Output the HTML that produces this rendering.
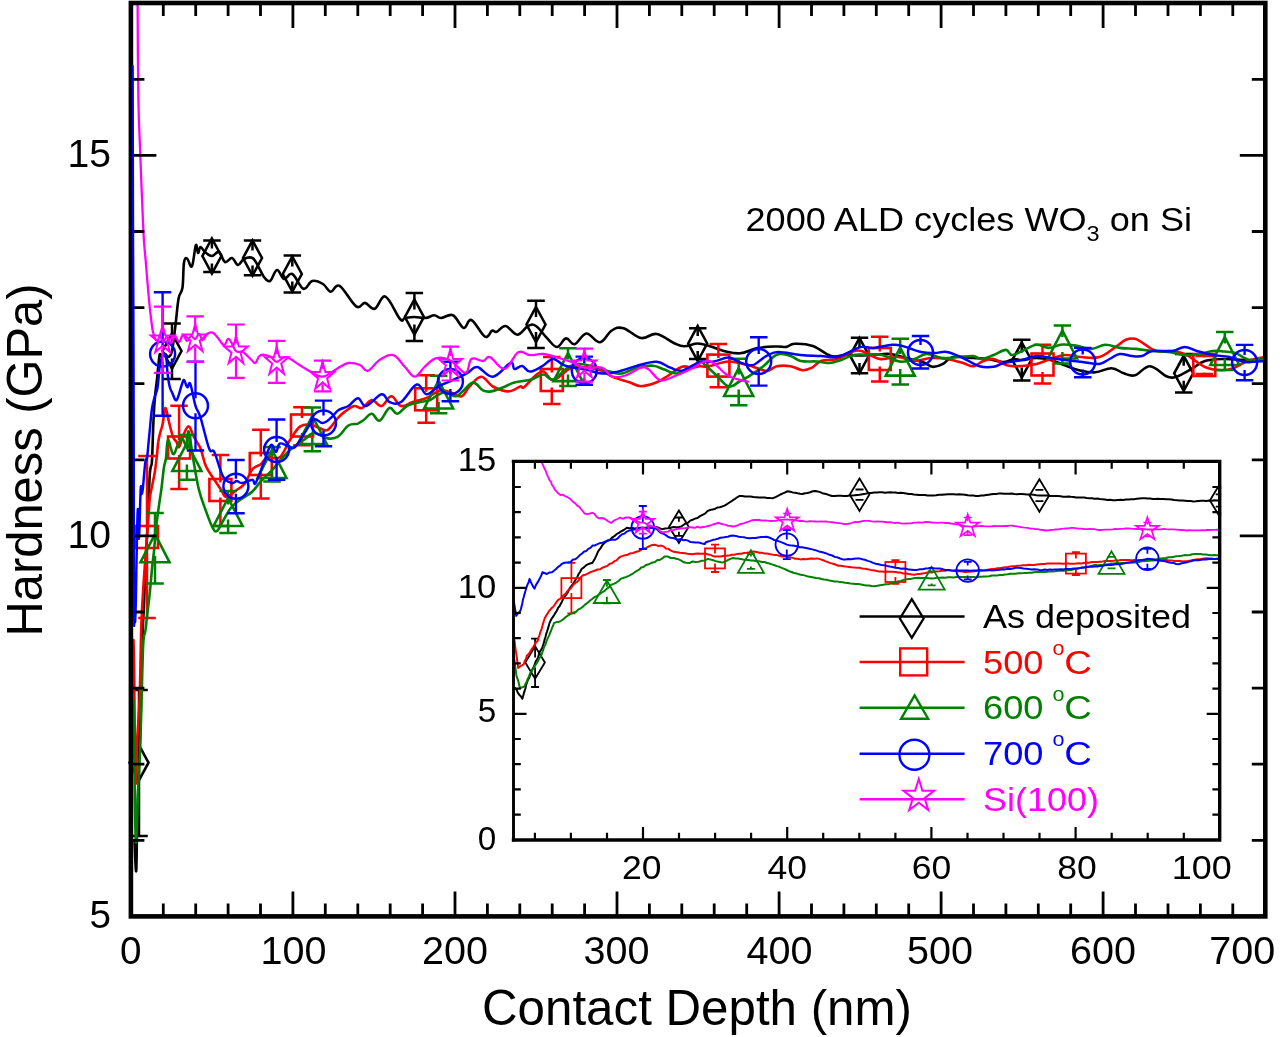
<!DOCTYPE html>
<html lang="en"><head><meta charset="utf-8"><title>Hardness vs Contact Depth</title>
<style>
html,body{margin:0;padding:0;background:#fff;}
body{width:1280px;height:1037px;overflow:hidden;position:relative;font-family:"Liberation Sans",Arial,Helvetica,sans-serif;}
</style></head><body>
<svg width="1280" height="1037" viewBox="0 0 1280 1037" style="display:block;position:absolute;left:0;top:0">
<rect width="1280" height="1037" fill="#fff"/>
<g id="main-curves" clip-path="url(#mclip)">
<clipPath id="mclip"><rect x="127.9" y="1" width="1140.4" height="917.4"/></clipPath>
<path fill="none" stroke="#000000" stroke-width="2.6" stroke-linejoin="round" stroke-linecap="round" d="M134.5 840C134.8 845.7 135.7 874.4 136.2 871.1C136.7 867.8 136.7 841.6 137.2 822.2C137.8 802.7 138.4 786 139 765.1C139.7 744.2 140.3 731.2 140.9 708C141.5 684.9 141.9 657.4 142.4 638.7C143 620 143.3 620.2 143.9 606C144.5 591.8 145.1 576.2 145.7 561.3C146.4 546.3 146.9 539.5 147.6 524.4C148.2 509.4 149 489.5 149.5 479.1C150.1 468.7 150.1 471.1 150.6 467.7C151 464.2 151.4 468.7 152 460.4C152.5 452.2 152.8 433.9 153.4 422.7C153.9 411.4 154.1 406.9 154.8 399.1C155.4 391.3 156.2 386.3 156.9 380.2C157.5 374.2 157.8 370.9 158.3 366.2C158.8 361.5 159.1 356.2 159.7 354.4C160.3 352.6 160.5 356.6 161.4 356.5C162.4 356.4 163.6 353.7 164.9 353.8C166.1 353.9 166.9 357.3 168.3 356.8C169.6 356.3 170.7 356.8 172 351C173.3 345.2 174.3 334.6 175.5 325C176.7 315.4 177.3 305.3 178.6 298.4C179.9 291.5 181.5 294.1 182.5 287.5C183.5 280.9 183.1 267.8 184 262.5C184.9 257.2 185.8 257.9 187.2 258.6C188.6 259.3 190.3 268.8 191.9 266.4C193.5 264 194.7 247.8 195.8 245.3C196.9 242.8 197.1 252.7 198 253C198.9 253.3 199.2 247.2 200.5 247C201.8 246.8 202.9 250.3 205 252C207.1 253.7 209.3 256 211.9 256C214.5 256 216.6 250.9 219 252C221.4 253.1 222.6 260.9 225 262C227.4 263.1 229.6 257.4 232 258C234.4 258.6 235.8 264.8 238 265C240.2 265.2 241.3 260.3 244 259C246.7 257.7 249.9 256.7 252.5 258C255.1 259.3 255.9 262.5 258 266C260.1 269.5 261.8 274.2 264 277C266.2 279.8 267.6 282.3 270 281C272.4 279.7 274.4 270.4 277 270C279.6 269.6 281.2 278.3 284 279C286.8 279.7 288.7 272.2 292.3 274C295.9 275.8 299.8 287.5 303.4 288.8C307 290.1 308.6 281.9 312.2 281C315.8 280.1 319.6 282 323 284C326.4 286 327.8 291.5 330.8 291.8C333.8 292.1 334.9 283.2 339.6 285.9C344.3 288.6 351.5 303.3 356.2 306.4C360.9 309.5 361.6 302.5 365 302.9C368.4 303.3 370.9 310 374.7 308.8C378.5 307.6 380.9 294.7 385.5 296.6C390.1 298.5 396.4 315.1 400 319C403.6 322.9 402.4 318.4 405 318C407.6 317.6 410.6 317 414.4 317C418.2 317 421.9 318.3 425.5 318C429.1 317.7 431.5 315.2 434.3 315.2C437.1 315.2 437.6 318 441 318C444.4 318 448.8 313.4 452.9 315.2C457 317 460.2 327 463.6 327.9C467 328.8 467.5 318.4 471.4 320C475.3 321.6 481.2 334.7 485 336.7C488.8 338.7 489.8 331.7 492 330.8C494.2 329.9 494.3 332.7 496.8 331.8C499.3 330.9 501.8 325.5 505.6 326C509.4 326.5 513.2 334.7 517.3 334.7C521.4 334.7 524.6 327.6 528 326C531.4 324.4 532.5 323.7 536 326C539.5 328.3 543.4 334.5 547.3 338.4C551.1 342.2 553.6 347 557 347C560.4 347 562.8 338.9 566 338.4C569.2 337.9 571 345.1 574.7 344.2C578.4 343.3 581.8 333.8 586.4 333.5C591 333.2 595.3 342.9 600 342.3C604.7 341.8 607.5 333.1 611.8 330.5C616.1 327.9 618.1 326.8 623.5 328.2C628.9 329.6 634.9 336.9 641 338C647.1 339.1 650.6 333 656.7 334C662.8 335 669.3 341 674.3 343.2C679.3 345.4 679.7 346.1 684 346.2C688.3 346.3 693.1 343.5 697.7 343.5C702.3 343.5 704.5 344.6 709.3 346C714.1 347.4 718.1 349.6 723.8 350.9C729.4 352.2 733.8 353.8 740 353.3C746.2 352.8 750.8 349.2 757.5 348C764.2 346.8 771.5 346.7 776.8 346.5C782.1 346.3 783.2 347.4 786.4 346.9C789.6 346.4 789.7 344 794.5 343.8C799.3 343.6 806.1 343.7 812.8 345.9C819.5 348.1 825 354.3 831 356C837 357.7 840.1 355.1 845.3 355C850.5 354.9 854.3 355.5 859.5 355.5C864.7 355.5 868.2 355.3 873.8 355C879.3 354.7 884 353.4 890 354C896 354.6 900.3 356.5 906.2 358C912.2 359.5 917.7 360.4 922.5 362C927.3 363.6 929 366.4 932.7 366.8C936.4 367.2 939.1 365.8 942.8 364C946.5 362.2 947.4 358.1 953 357C958.6 355.9 967 357.6 973.3 358C979.6 358.4 981.9 358.3 987.5 359C993.1 359.7 998.9 362 1003.8 362C1008.6 362 1010.7 359.4 1014 359C1017.3 358.6 1017.9 360.2 1022 360C1026.1 359.8 1031.2 358 1036.4 358C1041.6 358 1045.4 358.7 1050.6 360C1055.8 361.3 1059.6 363.3 1064.8 365.2C1070 367.1 1073.4 368.9 1079 370.2C1084.6 371.5 1089.3 372.7 1095.3 372.3C1101.3 371.9 1106.4 368 1111.6 368.2C1116.8 368.4 1119.5 372 1123.8 373.3C1128 374.6 1130.2 376.6 1135 375.3C1139.8 374 1144.2 366 1150 366.2C1155.8 366.4 1161.9 374.3 1166.4 376.3C1170.9 378.3 1171.3 377.9 1174.5 377.3C1177.7 376.8 1180.3 375 1183.7 373.3C1187.1 371.6 1188.9 370.5 1192.8 368.2C1196.7 365.9 1199.4 362.7 1205 361C1210.6 359.3 1216.2 359.2 1223.3 359C1230.4 358.8 1236 359.6 1243.6 360C1251.2 360.4 1261.1 360.8 1265 361"/>
<path fill="none" stroke="#000000" stroke-width="2.5" d="M139 690V755.2M139 770.2V836M130.2 690H147.8M130.2 836H147.8"/>
<path fill="none" stroke="#000000" stroke-width="2.6" stroke-linejoin="miter" d="M139 745.2L148.5 762.7L139 780.2L129.5 762.7Z"/>
<path fill="none" stroke="#000000" stroke-width="2.5" d="M172 323.5V343.5M172 358.5V379M163.2 323.5H180.8M163.2 379H180.8"/>
<path fill="none" stroke="#000000" stroke-width="2.6" stroke-linejoin="miter" d="M172 333.5L181.5 351L172 368.5L162.5 351Z"/>
<path fill="none" stroke="#000000" stroke-width="2.5" d="M211.9 240.6V248.5M211.9 263.5V271.9M203.2 240.6H220.7M203.2 271.9H220.7"/>
<path fill="none" stroke="#000000" stroke-width="2.6" stroke-linejoin="miter" d="M211.9 238.5L221.4 256L211.9 273.5L202.4 256Z"/>
<path fill="none" stroke="#000000" stroke-width="2.5" d="M252.5 240.6V250.5M252.5 265.5V275.3M243.8 240.6H261.2M243.8 275.3H261.2"/>
<path fill="none" stroke="#000000" stroke-width="2.6" stroke-linejoin="miter" d="M252.5 240.5L262 258L252.5 275.5L243 258Z"/>
<path fill="none" stroke="#000000" stroke-width="2.5" d="M292.3 255.5V266.5M292.3 281.5V292.5M283.6 255.5H301.1M283.6 292.5H301.1"/>
<path fill="none" stroke="#000000" stroke-width="2.6" stroke-linejoin="miter" d="M292.3 256.5L301.8 274L292.3 291.5L282.8 274Z"/>
<path fill="none" stroke="#000000" stroke-width="2.5" d="M414.4 293.1V309.5M414.4 324.5V341M405.6 293.1H423.1M405.6 341H423.1"/>
<path fill="none" stroke="#000000" stroke-width="2.6" stroke-linejoin="miter" d="M414.4 299.5L423.9 317L414.4 334.5L404.9 317Z"/>
<path fill="none" stroke="#000000" stroke-width="2.5" d="M536 300.7V317M536 332V348.1M527.2 300.7H544.8M527.2 348.1H544.8"/>
<path fill="none" stroke="#000000" stroke-width="2.6" stroke-linejoin="miter" d="M536 307L545.5 324.5L536 342L526.5 324.5Z"/>
<path fill="none" stroke="#000000" stroke-width="2.5" d="M697.7 328.2V336M697.7 351V358.9M689 328.2H706.5M689 358.9H706.5"/>
<path fill="none" stroke="#000000" stroke-width="2.6" stroke-linejoin="miter" d="M697.7 326L707.2 343.5L697.7 361L688.2 343.5Z"/>
<path fill="none" stroke="#000000" stroke-width="2.5" d="M859.5 337.7V348M859.5 363V373.3M850.8 337.7H868.2M850.8 373.3H868.2"/>
<path fill="none" stroke="#000000" stroke-width="2.6" stroke-linejoin="miter" d="M859.5 338L869 355.5L859.5 373L850 355.5Z"/>
<path fill="none" stroke="#000000" stroke-width="2.5" d="M1021.8 339.8V352.5M1021.8 367.5V380.4M1013 339.8H1030.5M1013 380.4H1030.5"/>
<path fill="none" stroke="#000000" stroke-width="2.6" stroke-linejoin="miter" d="M1021.8 342.5L1031.3 360L1021.8 377.5L1012.3 360Z"/>
<path fill="none" stroke="#000000" stroke-width="2.5" d="M1183.7 354V365.8M1183.7 380.8V392.6M1175 354H1192.5M1175 392.6H1192.5"/>
<path fill="none" stroke="#000000" stroke-width="2.6" stroke-linejoin="miter" d="M1183.7 355.8L1193.2 373.3L1183.7 390.8L1174.2 373.3Z"/>
<path fill="none" stroke="#ff0000" stroke-width="2.6" stroke-linejoin="round" stroke-linecap="round" d="M133.5 640C133.6 646.5 133.9 650.2 134.2 675.4C134.5 700.6 134.8 760.5 135.3 777.3C135.7 794.2 136.1 773.9 136.5 767.2C136.8 760.5 136.7 753.7 137.2 740.6C137.8 727.6 138.9 716.1 139.7 695.8C140.4 675.5 140.7 647.1 141.2 630.1C141.7 613.1 141.9 612.4 142.4 602.9C142.9 593.5 143.2 589 143.9 578.5C144.6 568 145.6 556 146.3 545.6C147.1 535.1 147.5 530.1 148.1 521.4C148.7 512.7 149.1 504.6 149.8 498.2C150.5 491.7 151.1 491.1 152 486.4C152.9 481.6 153.9 477.8 154.8 472.2C155.7 466.6 156.2 461.3 156.9 455.7C157.5 450.1 157.6 446 158.3 441.7C158.9 437.3 159.6 435.1 160.4 432C161.2 428.9 161.7 428.6 162.5 424.8C163.3 420.9 164 413.8 164.6 410.9C165.2 408 165.2 407 166 409C166.8 411 167.7 416.9 169 422C170.3 427.1 171.6 433 173 436.7C174.4 440.4 175.5 440.1 176.6 442C177.7 443.9 177.9 448.1 179.1 447C180.3 445.9 181.3 439.8 183 436C184.7 432.2 186.6 426.3 188.6 426.4C190.6 426.5 191.6 432.6 193.8 436.7C196 440.8 198.4 443.4 200.6 448.8C202.8 454.2 203.3 460.3 205.8 466C208.3 471.7 211.6 475.3 214.4 479.7C217.2 484.1 219.1 486.8 221.3 490C223.5 493.2 223.6 496.9 226.4 496.9C229.2 496.9 233.2 492.5 236.7 490C240.2 487.5 242.5 486.8 245.3 483C248.1 479.2 249.4 472.8 252.2 469.4C255 466 258 466.4 260.8 464.2C263.6 462 264.2 458.6 267.7 457.3C271.2 456 275.6 460.5 279.7 457.3C283.8 454.1 286.2 445.7 290 440C293.8 434.3 296.5 429.2 300.3 426.4C304.1 423.6 307.1 424.4 310.6 424.7C314.1 425 316 427.1 319.2 428C322.4 428.9 324.4 431.7 327.8 429.8C331.2 427.9 334.9 421.1 338 417.8C341.1 414.5 341.5 414.1 344.5 411.9C347.5 409.7 351 406.7 354.2 406C357.4 405.3 358.8 409.1 362 408C365.2 406.9 368.2 400.4 371.8 400C375.4 399.6 378 406.7 381.6 406C385.2 405.3 387.7 396.3 391.3 396.3C394.9 396.3 397.1 405 401 406C404.9 407 408.1 403.5 412.8 402C417.5 400.5 421.5 400.1 426.5 398C431.5 395.9 435.7 391.4 440 390.4C444.3 389.4 446 391.2 450 392.3C454 393.4 458 397.4 461.6 396.3C465.2 395.2 465.9 390.1 469.5 386.5C473.1 382.9 476.9 376.7 481.2 376.7C485.5 376.7 487.9 383.8 492.9 386.5C497.9 389.2 503.5 391.4 508.5 391.4C513.5 391.4 517.4 387.3 520.2 386.5C523 385.7 521.2 389.2 524 387.2C526.8 385.2 532 378.4 535.6 375.5C539.2 372.6 540.4 370.8 543.4 371.6C546.4 372.4 549 379.3 552.2 380C555.4 380.7 557.2 377.8 561 375.5C564.8 373.2 565.9 368.8 572.7 367.7C579.5 366.6 590.5 367.8 598 369.6C605.5 371.4 608 375.1 613.8 377.4C619.5 379.7 624.4 380.7 629.4 382.3C634.4 383.9 636 386.2 641 386.2C646 386.2 651.7 384.3 656.7 382.3C661.7 380.3 663.8 378.4 668.4 375.5C673 372.6 677.7 368.1 682 366.7C686.3 365.3 688.8 367.8 692 367.7C695.2 367.6 696.4 366.6 699.6 366.3C702.8 366 704 367.2 709.3 366.3C714.6 365.4 721.5 361.7 728.6 361.5C735.7 361.3 742.6 364.1 747.9 365.3C753.2 366.5 754 367.2 757.5 368.2C761 369.2 763.5 371.3 767 371C770.5 370.7 772.5 367.2 776.8 366.3C781.1 365.4 785.8 365.5 790.5 366.2C795.2 366.9 798.6 370 802.7 370.2C806.8 370.4 809.4 368.9 812.8 367.2C816.2 365.5 816.5 362.5 821 361C825.5 359.5 831.6 360.6 837.2 359C842.8 357.4 846.9 353.5 851.4 352C855.9 350.5 856.4 349.7 861.6 351C866.8 352.3 873.1 357.9 879.8 359C886.5 360.1 891.7 356.6 898 357C904.3 357.4 908.4 360.8 914.4 361C920.4 361.2 924.6 358.4 930.6 358C936.6 357.6 941 358.1 946.9 359C952.8 359.9 958.2 361.7 963 363C967.8 364.3 969.6 366.6 973.3 366.2C977 365.8 979.7 362.3 983.4 361C987.1 359.7 989.1 358.2 993.6 359C998.1 359.8 1002.6 364.3 1007.8 365.6C1013 366.9 1016.8 366.3 1022 366C1027.2 365.7 1031.2 365.3 1036.4 364C1041.6 362.7 1045.4 360.6 1050.6 359C1055.8 357.4 1059.2 355.4 1064.8 355C1070.4 354.6 1074.7 356.6 1081 357C1087.3 357.4 1093.1 358.9 1099.4 357C1105.7 355.1 1110.8 350.1 1115.6 346.9C1120.4 343.7 1122.2 341.3 1125.8 339.8C1129.4 338.3 1131.7 338 1135 338.8C1138.3 339.5 1140.1 341.6 1144 343.8C1147.9 346 1151 349.7 1156.2 351C1161.5 352.3 1166.9 350.3 1172.5 351C1178.1 351.7 1180.7 352.1 1186.7 355C1192.7 357.9 1198.7 364.2 1205 367C1211.3 369.8 1216 370 1221.2 370.2C1226.5 370.4 1228.6 369.9 1233.4 368.2C1238.2 366.5 1241.9 363.1 1247.7 361C1253.5 358.9 1261.8 357.7 1265 357"/>
<path fill="none" stroke="#ff0000" stroke-width="2.5" d="M147 456V529.5M147 544.5V618M138.2 456H155.8M138.2 618H155.8"/>
<rect fill="none" stroke="#ff0000" stroke-width="2.6" x="136" y="526" width="22" height="22"/>
<path fill="none" stroke="#ff0000" stroke-width="2.5" d="M179.1 405.8V440M179.1 455V489.1M170.3 405.8H187.8M170.3 489.1H187.8"/>
<rect fill="none" stroke="#ff0000" stroke-width="2.6" x="168.1" y="436.5" width="22" height="22"/>
<path fill="none" stroke="#ff0000" stroke-width="2.5" d="M220.4 455V482.5M220.4 497.5V526M211.7 455H229.2M211.7 526H229.2"/>
<rect fill="none" stroke="#ff0000" stroke-width="2.6" x="209.4" y="479" width="22" height="22"/>
<path fill="none" stroke="#ff0000" stroke-width="2.5" d="M260.8 429.8V456.5M260.8 471.5V498.6M252.1 429.8H269.6M252.1 498.6H269.6"/>
<rect fill="none" stroke="#ff0000" stroke-width="2.6" x="249.8" y="453" width="22" height="22"/>
<path fill="none" stroke="#ff0000" stroke-width="2.5" d="M302 407.2V418M302 433V445.3M293.2 407.2H310.8M293.2 445.3H310.8"/>
<rect fill="none" stroke="#ff0000" stroke-width="2.6" x="291" y="414.5" width="22" height="22"/>
<path fill="none" stroke="#ff0000" stroke-width="2.5" d="M426.2 375.2V391.8M426.2 406.8V422.7M417.4 375.2H434.9M417.4 422.7H434.9"/>
<rect fill="none" stroke="#ff0000" stroke-width="2.6" x="415.2" y="388.3" width="22" height="22"/>
<path fill="none" stroke="#ff0000" stroke-width="2.5" d="M551.8 357.1V372.5M551.8 387.5V403.9M543 357.1H560.5M543 403.9H560.5"/>
<rect fill="none" stroke="#ff0000" stroke-width="2.6" x="540.8" y="369" width="22" height="22"/>
<path fill="none" stroke="#ff0000" stroke-width="2.5" d="M718.4 344.1V358.1M718.4 373.1V387.3M709.6 344.1H727.1M709.6 387.3H727.1"/>
<rect fill="none" stroke="#ff0000" stroke-width="2.6" x="707.4" y="354.6" width="22" height="22"/>
<path fill="none" stroke="#ff0000" stroke-width="2.5" d="M879.8 336.7V351.5M879.8 366.5V381.4M871 336.7H888.5M871 381.4H888.5"/>
<rect fill="none" stroke="#ff0000" stroke-width="2.6" x="868.8" y="348" width="22" height="22"/>
<path fill="none" stroke="#ff0000" stroke-width="2.5" d="M1042.5 344.8V357M1042.5 372V383.4M1033.8 344.8H1051.2M1033.8 383.4H1051.2"/>
<rect fill="none" stroke="#ff0000" stroke-width="2.6" x="1031.5" y="353.5" width="22" height="22"/>
<path fill="none" stroke="#ff0000" stroke-width="2.5" d="M1204.3 356V357.5M1204.3 372.5V374M1195.5 356H1213M1195.5 374H1213"/>
<rect fill="none" stroke="#ff0000" stroke-width="2.6" x="1193.3" y="354" width="22" height="22"/>
<path fill="none" stroke="#008000" stroke-width="2.6" stroke-linejoin="round" stroke-linecap="round" d="M133.5 700C133.6 706 134 714.9 134.2 732.8C134.4 750.7 134.5 778.3 134.8 797.7C135.1 817.1 135.4 831.8 135.7 838.5C136.1 845.2 136.2 843.4 136.6 834.4C137.1 825.4 137.5 806 138.1 789.6C138.8 773.2 139.6 762.8 140.3 744.9C140.9 726.9 141.2 710.4 141.8 691.7C142.3 673 142.6 654 143.3 642.8C144 631.6 144.6 636.5 145.4 630.6C146.2 624.6 146.9 617.4 147.7 610.5C148.6 603.5 149.1 600.3 149.8 592.7C150.6 585.1 151.2 576.8 152 569C152.7 561.2 153.3 557.9 154.1 550.1C154.8 542.3 155.3 534.7 156.2 526.5C157.1 518.3 158 512.3 159 505.4C159.9 498.5 160.5 495.7 161.4 488.8C162.3 481.9 163.1 473.3 163.9 467.7C164.7 462 165.3 463.1 166 458C166.8 452.9 166.7 440.7 168 440C169.3 439.3 171.3 452.7 173 454C174.7 455.3 175.4 449.9 177 447C178.6 444.1 179.9 438.6 181.7 438.4C183.5 438.2 185.6 447.2 186.9 446C188.2 444.8 187.3 428.6 188.6 431.6C189.9 434.6 191.9 451.8 193.8 462.5C195.7 473.2 196.8 481.2 199 490C201.2 498.8 203.3 503.7 205.8 510.6C208.3 517.5 210.6 524.1 212.7 527.8C214.8 531.5 215.1 532.2 217 531C218.9 529.8 220.3 525.4 223 521C225.7 516.6 228.1 511.1 231.6 507C235.1 502.9 238.1 501.4 241.9 498.6C245.7 495.8 248.7 494.9 252.2 491.7C255.7 488.5 257 485.5 260.8 481.4C264.6 477.3 268.7 473.9 272.8 469.4C276.9 464.9 279.2 461.1 283 457C286.8 452.9 289.6 450.1 293.4 447C297.2 443.9 300 442.6 303.8 440C307.6 437.4 309.6 433.3 314 433C318.4 432.7 323.4 437.7 327.8 438.4C332.2 439.1 334.2 439.1 338 436.7C341.8 434.3 344.7 427.9 348.4 425.5C352.1 423.1 355.1 424.7 358 423.6C360.9 422.5 361.5 421.5 364 419.7C366.5 417.9 368.9 413.6 371.8 413.8C374.7 414 376.4 421.8 379.6 420.7C382.8 419.6 386.2 409.3 389.4 408C392.6 406.7 394 414.2 397.2 413.8C400.4 413.4 402.7 408.2 407 406C411.3 403.8 416.4 403.1 420.6 402C424.8 400.9 426.7 401.4 430 400C433.3 398.6 435.7 395.9 438.6 394.5C441.5 393.1 442.8 392 446 392.3C449.2 392.6 452.6 396.6 455.8 396.3C459 396 460.4 392.9 463.6 390.4C466.8 387.9 469.8 382.6 473.4 382.6C477 382.6 479.8 388.8 483 390.4C486.2 392 487.4 391.9 491 391.4C494.6 390.9 498.4 389.1 502.7 387.5C507 385.9 509.1 384.1 514.4 382.6C519.7 381.1 526.4 380.9 531.7 379.4C537 377.9 539.5 374.5 543.4 374.5C547.3 374.5 548.7 380.6 553.2 379.4C557.7 378.2 563.2 370.6 567.9 367.7C572.6 364.8 573.1 363.8 578.6 363.8C584.1 363.8 592.3 366.3 598 367.7C603.7 369.1 605.5 370.5 609.8 371.6C614.1 372.7 616.6 374.2 621.6 373.5C626.6 372.8 631.5 369.1 637.2 367.7C642.9 366.3 647.8 365.4 652.8 365.7C657.8 366 660.2 368.2 664.5 369.6C668.8 371 672 373.5 676.3 373.5C680.6 373.5 683.7 371.7 688 369.6C692.3 367.5 696.7 362.8 699.7 361.8C702.7 360.8 701.5 362 704.5 364.4C707.5 366.8 711.6 370.9 716 375C720.4 379.1 724.4 385.2 728.6 386.5C732.8 387.8 735.2 383.8 738.7 382C742.2 380.2 743.4 379.8 747.9 376.9C752.4 374 758 370.4 763.3 366.3C768.6 362.2 771.8 356.6 776.8 354.7C781.8 352.8 786.1 354.8 790.5 356C794.9 357.2 795.8 360 800.6 361C805.4 362 811.7 361.1 816.9 361.5C822.1 361.9 824.5 363.3 829 363C833.5 362.7 836.8 361.5 841.2 360C845.7 358.5 848.9 356 853.4 355C857.9 354 860.4 354.6 865.6 354.6C870.8 354.6 875.6 353.7 881.9 355C888.2 356.3 894.2 360.9 900.2 361.6C906.2 362.3 909.6 360.4 914.4 359C919.2 357.6 921.4 354.2 926.6 354C931.8 353.8 936.9 357.4 942.8 358C948.7 358.6 953.4 357.4 959 357C964.6 356.6 969.2 355.6 973.3 356C977.4 356.4 977.7 359.2 981.4 359C985.1 358.8 989.1 356.7 993.6 355C998.1 353.3 1002.4 349.9 1005.8 349.9C1009.2 349.9 1008.9 354.8 1011.9 355C1014.9 355.2 1017.7 352.9 1022.2 351C1026.7 349.1 1031.6 345.4 1036.4 344.8C1041.2 344.2 1043.8 348 1048.6 347.9C1053.4 347.8 1057.2 344.9 1062.4 344.5C1067.6 344.1 1071.7 345.1 1077 345.9C1082.3 346.7 1086 349.1 1091.2 348.9C1096.5 348.7 1100.3 345 1105.5 344.8C1110.7 344.6 1114.1 347.1 1119.7 347.9C1125.3 348.7 1130 348.3 1136 348.9C1142 349.5 1146.3 350.4 1152.2 351C1158.1 351.6 1162.4 351.3 1168.4 352C1174.4 352.7 1179.1 354.6 1184.7 355C1190.3 355.4 1193.7 354.7 1198.9 354C1204.1 353.3 1208.3 351.5 1213 351C1217.7 350.5 1220.2 351.1 1224.3 351.5C1228.4 351.9 1230.8 351.4 1235.5 353C1240.2 354.6 1244.3 359.1 1249.7 360C1255.1 360.9 1262.2 358.4 1265 358"/>
<path fill="none" stroke="#008000" stroke-width="2.5" d="M155 513V540.7M155 555.7V583.4M146.2 513H163.8M146.2 583.4H163.8"/>
<path fill="none" stroke="#008000" stroke-width="2.6" stroke-linejoin="miter" d="M155 534.2L169.5 562.2L140.5 562.2Z"/>
<path fill="none" stroke="#008000" stroke-width="2.5" d="M186.9 435V449.5M186.9 464.5V479.7M178.2 435H195.7M178.2 479.7H195.7"/>
<path fill="none" stroke="#008000" stroke-width="2.6" stroke-linejoin="miter" d="M186.9 443L201.4 471L172.4 471Z"/>
<path fill="none" stroke="#008000" stroke-width="2.5" d="M228.1 491V504.5M228.1 519.5V533M219.3 491H236.8M219.3 533H236.8"/>
<path fill="none" stroke="#008000" stroke-width="2.6" stroke-linejoin="miter" d="M228.1 498L242.6 526L213.6 526Z"/>
<path fill="none" stroke="#008000" stroke-width="2.5" d="M272 447V456.5M272 471.5V481.4M263.2 447H280.8M263.2 481.4H280.8"/>
<path fill="none" stroke="#008000" stroke-width="2.6" stroke-linejoin="miter" d="M272 450L286.5 478L257.5 478Z"/>
<path fill="none" stroke="#008000" stroke-width="2.5" d="M312.3 407.5V422.5M312.3 437.5V451.3M303.6 407.5H321.1M303.6 451.3H321.1"/>
<path fill="none" stroke="#008000" stroke-width="2.6" stroke-linejoin="miter" d="M312.3 416L326.8 444L297.8 444Z"/>
<path fill="none" stroke="#008000" stroke-width="2.5" d="M438.6 375.7V387M438.6 402V413.3M429.9 375.7H447.4M429.9 413.3H447.4"/>
<path fill="none" stroke="#008000" stroke-width="2.6" stroke-linejoin="miter" d="M438.6 380.5L453.1 408.5L424.1 408.5Z"/>
<path fill="none" stroke="#008000" stroke-width="2.5" d="M568 348.2V359.6M568 374.6V386M559.2 348.2H576.8M559.2 386H576.8"/>
<path fill="none" stroke="#008000" stroke-width="2.6" stroke-linejoin="miter" d="M568 353.1L582.5 381.1L553.5 381.1Z"/>
<path fill="none" stroke="#008000" stroke-width="2.5" d="M738.7 358.7V374.5M738.7 389.5V405.3M730 358.7H747.5M730 405.3H747.5"/>
<path fill="none" stroke="#008000" stroke-width="2.6" stroke-linejoin="miter" d="M738.7 368L753.2 396L724.2 396Z"/>
<path fill="none" stroke="#008000" stroke-width="2.5" d="M900.2 338.8V354.1M900.2 369.1V384.5M891.5 338.8H909M891.5 384.5H909"/>
<path fill="none" stroke="#008000" stroke-width="2.6" stroke-linejoin="miter" d="M900.2 347.6L914.7 375.6L885.7 375.6Z"/>
<path fill="none" stroke="#008000" stroke-width="2.5" d="M1062.4 325.5V337M1062.4 352V363.5M1053.7 325.5H1071.2M1053.7 363.5H1071.2"/>
<path fill="none" stroke="#008000" stroke-width="2.6" stroke-linejoin="miter" d="M1062.4 330.5L1076.9 358.5L1047.9 358.5Z"/>
<path fill="none" stroke="#008000" stroke-width="2.5" d="M1224.8 332V343.5M1224.8 358.5V370M1216 332H1233.5M1216 370H1233.5"/>
<path fill="none" stroke="#008000" stroke-width="2.6" stroke-linejoin="miter" d="M1224.8 337L1239.3 365L1210.3 365Z"/>
<path fill="none" stroke="#0000ff" stroke-width="2.47" stroke-linejoin="round" stroke-linecap="round" d="M131.5 4C131.8 58.3 132.6 190.7 133 300C133.4 409.3 133.6 549.9 133.8 600C134 650.1 134 569.7 134.2 573.5C134.4 577.2 134.5 614.5 134.8 620.5C135.1 626.4 135.4 617.6 135.7 606C136.1 594.4 136.2 574.9 136.6 557.2C137 539.5 137.4 512.7 137.8 509.3C138.2 505.9 138.4 542.4 138.9 538.6C139.5 534.9 140.2 496.9 140.7 488.8C141.2 480.7 141.3 494.2 141.7 494.2C142.1 494.2 142.4 492.7 142.8 488.8C143.3 484.9 143.7 478.3 144.2 473.1C144.7 467.9 145.1 463.2 145.6 460.4C146.2 457.6 146.4 462.3 147 458C147.7 453.7 148.2 445.9 149.1 436.8C150.1 427.8 150.9 415.8 152 408.5C153 401.1 153.7 400.6 154.8 396.7C155.8 392.8 156.7 392.9 157.6 387.3C158.5 381.7 159 371.4 159.7 366.2C160.4 361 160.9 361.2 161.4 358.9C162 356.7 161.8 354.4 162.6 354C163.4 353.6 165.1 353.8 166 357C166.9 360.2 166.8 366.2 167.4 371.5C168 376.8 168.6 382.1 169.5 386C170.4 389.9 171 390.4 172.3 393C173.6 395.6 174.9 401.5 176.6 400C178.3 398.5 180.3 388.7 181.7 385C183.1 381.3 183 379.6 184 380C185 380.4 186.1 386.6 187.3 387.3C188.5 388 188.8 380.6 190.3 384C191.8 387.4 193.6 399.6 195.5 405.8C197.4 412 198.1 409.9 200.6 417.8C203.1 425.7 206.7 442.5 209.2 448.8C211.7 455.1 211.9 447.2 214.4 452.2C216.9 457.2 219.8 470.7 223 476.3C226.2 481.9 229.1 482.1 231.6 483C234.1 483.9 234.8 481 236.7 481C238.6 481 239.1 483.2 241.9 483C244.7 482.8 249.7 479.7 252.2 479.7C254.7 479.7 253.4 486.2 255.6 483C257.8 479.8 261.2 469 264 462C266.8 455 268.8 446.8 271 445C273.2 443.2 274.4 452.3 276 452C277.6 451.7 277.5 444.7 279.7 443.6C281.9 442.5 285.2 445.4 288 446C290.8 446.6 291.8 449.6 295 447C298.2 444.4 302 436.6 305.5 431.6C309 426.6 310.8 421.1 314 419.5C317.2 417.9 319.6 423.3 322.7 423C325.8 422.7 328.1 420.2 331 417.8C333.9 415.4 335.4 412.2 338.6 410C341.8 407.8 344.8 408.2 348.4 406C352 403.8 354.8 398.2 358 398.2C361.2 398.2 361.7 406.7 366 406C370.3 405.3 377.3 395 381.6 394.3C385.9 393.6 385.8 400.6 389.4 402C393 403.4 396 405.2 401 402C406 398.8 412 385.9 416.7 384.5C421.4 383.1 422.6 393.9 426.5 394.3C430.4 394.7 433.6 389 438.2 386.5C442.8 384 446.1 383.1 451.5 380.6C456.9 378.1 462.8 375.3 467.5 372.8C472.2 370.3 472.6 366.3 477.3 367C482 367.7 486.8 377.4 492.9 376.7C499 376 506.6 364.4 510.5 363C514.4 361.6 512.3 368.4 514.4 369C516.5 369.6 519.4 365.5 522.2 366C525 366.5 526.3 371.5 529.8 371.6C533.3 371.7 537.2 369 541.5 366.7C545.8 364.4 548.9 359.1 553.2 358.9C557.5 358.7 559.1 363.7 565 365.7C570.9 367.7 578.6 368.2 585.4 369.6C592.2 371 596.1 373.1 602 373.5C607.9 373.9 611.2 373 617.7 371.6C624.2 370.2 630.1 367.5 637.2 365.7C644.4 363.9 650.6 361.4 656.7 361.8C662.8 362.2 665.8 366.1 670.4 367.7C675 369.3 677.3 371.3 682 370.6C686.7 369.9 692 365.4 695.8 363.8C699.6 362.1 699.2 361.9 702.5 361.5C705.8 361.1 709.2 362.2 714 361.5C718.8 360.8 723.8 357.4 728.6 357.6C733.4 357.8 735.8 361 740 362.4C744.2 363.8 748.3 365.5 751.7 365.3C755.1 365.1 755.9 363.3 758.7 361.5C761.5 359.7 763.4 357.4 767 355.7C770.6 354 772.1 352.1 778.3 352C784.5 351.9 792.8 354.3 800.6 355C808.4 355.7 814.3 355.6 821 356C827.7 356.4 831.6 357.9 837.2 357C842.8 356.1 846.9 352.9 851.4 351C855.9 349.1 857.5 347.5 861.6 346.9C865.7 346.3 868.2 348.3 873.8 347.9C879.3 347.5 886.8 345.2 892 344.8C897.2 344.4 896.9 344.6 902.2 345.9C907.5 347.2 915.1 350.7 921.1 352C927.1 353.3 930 353 934.7 353C939.4 353 941.7 351.1 946.9 352C952.1 352.9 957 355.4 963 358C969 360.6 973.8 364.6 979.4 366.2C985 367.8 989.1 367.4 993.6 366.8C998.1 366.2 998.5 364.2 1003.8 363C1009 361.8 1016 361.3 1022 360C1028 358.7 1031.2 356.4 1036.4 356C1041.6 355.6 1045.4 357.3 1050.6 358C1055.8 358.7 1058.9 359.3 1064.8 360C1070.7 360.7 1076.4 361.3 1082.7 362C1089 362.7 1094.5 364.6 1099.4 364C1104.3 363.4 1105.8 360.8 1109.5 359C1113.2 357.2 1115.6 354.6 1119.7 354C1123.8 353.4 1127.8 355.6 1131.9 356C1136 356.4 1138.3 356.9 1142 356C1145.7 355.1 1146.6 351.9 1152.2 351C1157.8 350.1 1166.5 351.8 1172.5 351C1178.5 350.2 1180.2 346.9 1184.7 346.9C1189.2 346.9 1191.7 349.5 1196.9 351C1202.1 352.5 1207 353.9 1213 355C1219 356.1 1223.6 355.7 1229.4 357C1235.2 358.3 1238.1 361.3 1244.6 362C1251.1 362.7 1261.3 361.2 1265 361"/>
<path fill="none" stroke="#0000ff" stroke-width="2.38" d="M162.6 292.3V346.5M162.6 361.5V415.7M153.8 292.3H171.3M153.8 415.7H171.3"/>
<circle fill="none" stroke="#0000ff" stroke-width="2.47" cx="162.6" cy="354" r="12.5"/>
<path fill="none" stroke="#0000ff" stroke-width="2.38" d="M195.5 361.8V398.3M195.5 413.3V450.5M186.8 361.8H204.2M186.8 450.5H204.2"/>
<circle fill="none" stroke="#0000ff" stroke-width="2.47" cx="195.5" cy="405.8" r="12.5"/>
<path fill="none" stroke="#0000ff" stroke-width="2.38" d="M235.9 460V478.7M235.9 493.7V513.2M227.2 460H244.7M227.2 513.2H244.7"/>
<circle fill="none" stroke="#0000ff" stroke-width="2.47" cx="235.9" cy="486.2" r="12.5"/>
<path fill="none" stroke="#0000ff" stroke-width="2.38" d="M276.6 419.5V442.1M276.6 457.1V479.7M267.9 419.5H285.4M267.9 479.7H285.4"/>
<circle fill="none" stroke="#0000ff" stroke-width="2.47" cx="276.6" cy="449.6" r="12.5"/>
<path fill="none" stroke="#0000ff" stroke-width="2.38" d="M323.5 400.6V415.5M323.5 430.5V446.2M314.8 400.6H332.2M314.8 446.2H332.2"/>
<circle fill="none" stroke="#0000ff" stroke-width="2.47" cx="323.5" cy="423" r="12.5"/>
<path fill="none" stroke="#0000ff" stroke-width="2.38" d="M450.4 361.7V374M450.4 389V401.2M441.6 361.7H459.1M441.6 401.2H459.1"/>
<circle fill="none" stroke="#0000ff" stroke-width="2.47" cx="450.4" cy="381.5" r="12.5"/>
<path fill="none" stroke="#0000ff" stroke-width="2.38" d="M584.3 356.6V363.2M584.3 378.2V384.8M575.5 356.6H593M575.5 384.8H593"/>
<circle fill="none" stroke="#0000ff" stroke-width="2.47" cx="584.3" cy="370.7" r="12.5"/>
<path fill="none" stroke="#0000ff" stroke-width="2.38" d="M758.7 337.2V354M758.7 369V385.6M750 337.2H767.5M750 385.6H767.5"/>
<circle fill="none" stroke="#0000ff" stroke-width="2.47" cx="758.7" cy="361.5" r="12.5"/>
<path fill="none" stroke="#0000ff" stroke-width="2.38" d="M920.5 336V345M920.5 360V368.5M911.8 336H929.2M911.8 368.5H929.2"/>
<circle fill="none" stroke="#0000ff" stroke-width="2.47" cx="920.5" cy="352.5" r="12.5"/>
<path fill="none" stroke="#0000ff" stroke-width="2.38" d="M1082.7 347.9V354.5M1082.7 369.5V377.3M1074 347.9H1091.5M1074 377.3H1091.5"/>
<circle fill="none" stroke="#0000ff" stroke-width="2.47" cx="1082.7" cy="362" r="12.5"/>
<path fill="none" stroke="#0000ff" stroke-width="2.38" d="M1244.6 344.9V355M1244.6 370V380.2M1235.8 344.9H1253.3M1235.8 380.2H1253.3"/>
<circle fill="none" stroke="#0000ff" stroke-width="2.47" cx="1244.6" cy="362.5" r="12.5"/>
<path fill="none" stroke="#ff00ff" stroke-width="2.29" stroke-linejoin="round" stroke-linecap="round" d="M137.6 3C137.7 20.8 137.9 72.2 138.4 100C138.9 127.8 139.4 130.6 140.3 154.7C141.2 178.8 142.4 211.6 143.4 231.3C144.4 251 144.8 249.4 145.8 262C146.8 274.6 148 289 149 300C150 311 150.7 316 151.5 322C152.3 328 152.2 329.2 153.2 332.7C154.2 336.2 155.8 340.4 157 341C158.2 341.6 158.9 335.8 160 336C161.1 336.2 161.7 341.8 163 342C164.3 342.2 165.5 336.8 167 337C168.5 337.2 169.5 343.2 171 343C172.5 342.8 173.5 336.2 175 336C176.5 335.8 177.5 342.2 179 342C180.5 341.8 181.5 335.2 183 335C184.5 334.8 185.5 340.8 187 341C188.5 341.2 189.5 336.4 191 336C192.5 335.6 193.7 339.4 195.2 339C196.7 338.6 197.6 333.8 199 334C200.4 334.2 201.5 340 203 340C204.5 340 205.2 335.3 207 334C208.8 332.7 210.8 332 212.8 332.7C214.8 333.4 215.9 335.7 218 338C220.1 340.3 222 345 224 345.2C226 345.4 226.8 337.9 229 339C231.2 340.1 233.4 348.6 236 351C238.6 353.4 240.1 350.4 243 352C245.9 353.6 249.3 358 251.6 360C253.9 362 253.8 363.7 255.4 362.8C257 361.9 257.7 356.4 260.4 355.2C263.1 354 267 355.3 270 356.5C273 357.7 273.8 361.7 276.7 361.8C279.6 361.9 281.7 356.6 285.9 357.2C290.1 357.8 295.2 362.5 299.5 365C303.8 367.5 305.1 368.8 309.3 370.9C313.5 373 317.6 377.1 322.6 376.7C327.6 376.3 331.9 371.4 336.6 368.9C341.3 366.4 344.1 363.7 348.4 363C352.7 362.3 356.4 363.6 360 365C363.6 366.4 364.3 371.8 367.9 370.9C371.5 370 374.9 362.9 379.6 360C384.3 357.1 388.6 353.9 393.3 355.2C398 356.5 401.1 363.1 405 367C408.9 370.9 411.2 376.7 414.8 376.7C418.4 376.7 420.6 370.4 424.5 367C428.4 363.6 431.6 359.4 436.3 358.2C441 357 445 357.8 450.4 360.5C455.8 363.2 461.6 373.1 465.5 372.8C469.4 372.5 468.2 361.2 471.4 359C474.6 356.8 479.6 361.3 483 361C486.4 360.7 486 355.8 490 357.2C494 358.6 499.4 369.8 504.6 368.9C509.8 368 513.6 354.8 518.3 352.3C523 349.8 525.4 354.9 530 355.2C534.6 355.5 538.1 353.5 543.4 354C548.7 354.5 554 356.6 559 358C564 359.4 566.1 360 570.8 361.8C575.5 363.6 578.8 366.6 584.5 367.7C590.2 368.8 597 366.1 602 367.7C607 369.3 607.5 375 611.8 376.4C616.1 377.8 620.1 377.1 625.5 375.5C630.9 373.9 636.7 368.8 641 367.7C645.3 366.6 645.4 367.3 649 369.6C652.6 371.9 655.6 379.3 660.6 380.4C665.6 381.5 670.9 377.5 676.3 375.5C681.7 373.5 684.8 372.2 690 369.6C695.2 367 700.1 362.6 704.5 361.5C708.9 360.4 709.6 360.7 714 363.4C718.4 366.1 722.4 372.6 728.6 376C734.8 379.4 744.4 380.7 747.9 381.7"/>
<path fill="none" stroke="#ff00ff" stroke-width="2.2" d="M162.6 306.7V332.5M162.6 347.5V372.8M153.8 306.7H171.3M153.8 372.8H171.3"/>
<path fill="none" stroke="#ff00ff" stroke-width="2.0" stroke-linejoin="miter" d="M162.6 325.2L165.4 335.4L174.4 335.4L167.1 341.7L169.9 352L162.6 345.7L155.3 352L158.1 341.7L150.8 335.4L159.8 335.4Z"/>
<path fill="none" stroke="#ff00ff" stroke-width="2.2" d="M195.2 316.4V331.5M195.2 346.5V361.8M186.4 316.4H203.9M186.4 361.8H203.9"/>
<path fill="none" stroke="#ff00ff" stroke-width="2.0" stroke-linejoin="miter" d="M195.2 324.2L198 334.4L207 334.4L199.7 340.7L202.5 351L195.2 344.7L187.9 351L190.7 340.7L183.4 334.4L192.4 334.4Z"/>
<path fill="none" stroke="#ff00ff" stroke-width="2.2" d="M236 324.5V343.5M236 358.5V377.8M227.2 324.5H244.8M227.2 377.8H244.8"/>
<path fill="none" stroke="#ff00ff" stroke-width="2.0" stroke-linejoin="miter" d="M236 336.2L238.8 346.4L247.8 346.4L240.5 352.7L243.3 363L236 356.7L228.7 363L231.5 352.7L224.2 346.4L233.2 346.4Z"/>
<path fill="none" stroke="#ff00ff" stroke-width="2.2" d="M276.7 340.8V354.3M276.7 369.3V382.8M267.9 340.8H285.4M267.9 382.8H285.4"/>
<path fill="none" stroke="#ff00ff" stroke-width="2.0" stroke-linejoin="miter" d="M276.7 347L279.5 357.2L288.5 357.2L281.2 363.5L284 373.8L276.7 367.5L269.4 373.8L272.2 363.5L264.9 357.2L273.9 357.2Z"/>
<path fill="none" stroke="#ff00ff" stroke-width="2.2" d="M322.6 360.7V369.2M322.6 384.2V391.4M313.9 360.7H331.4M313.9 391.4H331.4"/>
<path fill="none" stroke="#ff00ff" stroke-width="2.0" stroke-linejoin="miter" d="M322.6 361.9L325.4 372.1L334.4 372.1L327.1 378.4L329.9 388.7L322.6 382.4L315.3 388.7L318.1 378.4L310.8 372.1L319.8 372.1Z"/>
<path fill="none" stroke="#ff00ff" stroke-width="2.2" d="M450.4 346.6V356M450.4 371V380.5M441.6 346.6H459.1M441.6 380.5H459.1"/>
<path fill="none" stroke="#ff00ff" stroke-width="2.0" stroke-linejoin="miter" d="M450.4 348.7L453.2 358.9L462.2 358.9L454.9 365.2L457.7 375.5L450.4 369.2L443.1 375.5L445.9 365.2L438.6 358.9L447.6 358.9Z"/>
<path fill="none" stroke="#ff00ff" stroke-width="2.2" d="M584.4 348.7V357.7M584.4 372.7V381.7M575.6 348.7H593.1M575.6 381.7H593.1"/>
<path fill="none" stroke="#ff00ff" stroke-width="2.0" stroke-linejoin="miter" d="M584.4 350.4L587.2 360.6L596.2 360.6L588.9 366.9L591.7 377.2L584.4 370.9L577.1 377.2L579.9 366.9L572.6 360.6L581.6 360.6Z"/>
</g>
<path fill="none" stroke="#000" stroke-width="2.8" d="M163.3 3V16M163.3 916.4V903.4M195.7 3V16M195.7 916.4V903.4M228.1 3V16M228.1 916.4V903.4M260.5 3V16M260.5 916.4V903.4M292.9 3V28M292.9 916.4V891.4M325.3 3V16M325.3 916.4V903.4M357.8 3V16M357.8 916.4V903.4M390.2 3V16M390.2 916.4V903.4M422.6 3V16M422.6 916.4V903.4M455 3V28M455 916.4V891.4M487.4 3V16M487.4 916.4V903.4M519.8 3V16M519.8 916.4V903.4M552.2 3V16M552.2 916.4V903.4M584.6 3V16M584.6 916.4V903.4M617 3V28M617 916.4V891.4M649.4 3V16M649.4 916.4V903.4M681.8 3V16M681.8 916.4V903.4M714.2 3V16M714.2 916.4V903.4M746.7 3V16M746.7 916.4V903.4M779.1 3V28M779.1 916.4V891.4M811.5 3V16M811.5 916.4V903.4M843.9 3V16M843.9 916.4V903.4M876.3 3V16M876.3 916.4V903.4M908.7 3V16M908.7 916.4V903.4M941.1 3V28M941.1 916.4V891.4M973.5 3V16M973.5 916.4V903.4M1005.9 3V16M1005.9 916.4V903.4M1038.3 3V16M1038.3 916.4V903.4M1070.7 3V16M1070.7 916.4V903.4M1103.1 3V28M1103.1 916.4V891.4M1135.5 3V16M1135.5 916.4V903.4M1168 3V16M1168 916.4V903.4M1200.4 3V16M1200.4 916.4V903.4M1232.8 3V16M1232.8 916.4V903.4M130.9 840.3H144.4M1265.3 840.3H1251.8M130.9 764.2H144.4M1265.3 764.2H1251.8M130.9 688.1H144.4M1265.3 688.1H1251.8M130.9 612H144.4M1265.3 612H1251.8M130.9 535.9H156.4M1265.3 535.9H1239.8M130.9 459.8H144.4M1265.3 459.8H1251.8M130.9 383.7H144.4M1265.3 383.7H1251.8M130.9 307.6H144.4M1265.3 307.6H1251.8M130.9 231.5H144.4M1265.3 231.5H1251.8M130.9 155.4H156.4M1265.3 155.4H1239.8M130.9 79.3H144.4M1265.3 79.3H1251.8"/>
<rect fill="none" stroke="#000" stroke-width="4.6" x="130.9" y="3" width="1134.4" height="913.4"/>
<polyline fill="none" stroke="#0000ff" stroke-width="2.2" stroke-linejoin="round" stroke-linecap="round" points="132.7,66 133.3,300 134.2,626"/>
<rect fill="#fff" stroke="none" x="513.5" y="461.4" width="706.2" height="378.6"/>
<clipPath id="iclip"><rect x="513.5" y="461.4" width="707.7" height="378.6"/></clipPath>
<g id="inset-curves" clip-path="url(#iclip)">
<polyline fill="none" stroke="#000000" stroke-width="2.0" stroke-linejoin="round" stroke-linecap="round" points="515,688 516.5,689.6 517.9,692.9 519.4,694.9 520.8,696.2 522.3,698.8 523.1,696.1 523.9,693.3 524.6,690.9 525.4,688.5 526.2,684.7 527,682.6 528,679.5 529,678.4 530,675.4 531,673.6 532,670 533,668.3 534,666.4 535,663.7 536,660.9 537,659.7 538.1,657.3 539.1,653.5 540.1,651.1 541.2,649.6 542.2,647.9 543.2,644.8 544,642.1 544.7,639.2 545.5,637 546.2,633.8 547,631.6 547.7,629.4 548.5,626.9 549.2,624 550,621.9 551.3,619.2 552.7,617.1 554,615.3 555.4,612.8 556.7,611 558.1,607.8 559.4,606.6 560.8,603.7 562.1,601.4 563.4,598.2 564.8,596.2 566.4,594.5 568,591.9 569.7,588.3 571.3,586.2 572.9,584 574.4,581.9 575.8,579.3 577.2,577.2 578.7,573.9 580.1,572 581.6,569 583.9,567.4 586.2,565.2 589.4,563.7 592.5,562.8 593.8,560.4 595,558.4 596.2,555.9 597.5,552.8 598.8,550.3 600.8,547.8 602.9,544.4 605,542.5 607.4,540.5 609.7,539.9 612,537.7 614.4,536.2 616.5,534.2 618.5,533.2 620.6,531.6 623.8,530 626.9,527.7 629.5,528.2 632.1,528 634.7,528.4 637.2,528.2 639.8,528.1 642.4,528.4 644.9,527.8 647.5,527.5 650,527.5 652.5,527.7 655,527.1 657.5,527.3 660,528.5 662.5,529.1 665,528.5 667.8,528.3 670.6,527.7 673.3,527 676.1,527.2 678.9,526.9 681.2,526.5 683.4,525 685.7,523.4 688,522.7 690.2,520.6 692.5,519.8 695,518.6 697.5,518 700,516.1 702.5,514.8 705,513.6 707.7,510.9 710.1,510 712.5,509.4 714.9,508.9 717.3,507.6 719.7,507.3 722.1,506.5 724.5,505.6 726.6,504.4 728.7,503 730.8,501.7 733,500.1 735.1,498.8 737.2,497.3 739.3,496 742.1,496 744.9,496.6 747.8,496.6 750.6,496.6 753.4,497 756.2,497.2 759,497.4 761.8,497.5 764.6,497.6 767.4,497.9 770.2,498.1 773,498.2 775.5,497.1 777.9,495.9 780.4,494.5 782.9,493.4 785.3,492.3 787.8,491.3 790.3,491.8 792.7,492.4 795.2,492.8 797.7,493.3 800.1,493.7 802.6,494 805.1,493.2 807.6,493 810.2,492.2 812.7,491.3 815.2,490.9 817.6,491.4 820,492.1 822.4,493.2 824.8,493.7 827.2,494.3 829.6,495.3 832,496 835,495.9 838,495.8 840.9,495.8 843.9,496 846.9,496 849.4,495.6 851.9,495.4 854.5,495.3 857,494.9 859.5,494.7 862.5,494.2 865.4,493.8 868.4,493.1 871.3,492.9 874.3,492.5 876.9,492.5 879.6,492.3 882.2,492.3 884.8,492.7 887.5,492.5 890.1,492.3 892.8,492.6 895.4,492.5 898,493 900.7,492.8 903.3,493.1 906,493.4 908.6,494 911.2,494 913.9,494.5 916.5,494.7 919.3,494.9 922.1,495 924.9,494.9 927.7,495.5 930.5,495.5 933.3,495.5 936.2,495.2 939.2,494.8 942.1,494.8 945.1,494.4 948,494.2 950.8,494.3 953.7,494.3 956.5,494.5 959.3,494.3 962.2,494.5 965,494.7 967.8,495.3 970.5,495.6 973.2,495.6 976,496 978.5,495.9 981.1,495.4 983.6,495.5 986.2,495.1 988.7,494.7 991.2,494.3 993.8,493.9 996.3,494.1 998.9,493.4 1001.4,493.4 1004,493.7 1006.6,493.8 1009.1,493.7 1011.7,493.6 1014.3,494.1 1016.9,494.2 1019.4,494.1 1022,494.1 1024.6,494.2 1027.6,494.4 1030.5,494.6 1033.5,494.8 1036.4,495.3 1039.4,495.5 1042,495.6 1044.7,495.5 1047.3,495.6 1050,496 1052.6,495.9 1055.2,496.1 1057.9,496.1 1060.5,496.3 1063.1,496.7 1065.8,496.8 1068.4,496.5 1071,496.8 1073.6,497 1076.2,497.5 1078.9,497.6 1081.5,497.5 1084.1,497.6 1086.8,498 1089.4,498.2 1092,498.2 1094.6,498.7 1097.2,498.6 1099.8,499.1 1102.4,499.2 1104.9,499.4 1107.5,499.9 1110.1,499.7 1112.7,500.2 1115.3,500.3 1118,499.9 1120.7,499.7 1123.3,500 1126,499.4 1128.7,499.5 1131.4,499.2 1134.1,499.2 1136.8,498.7 1139.4,498.5 1142.1,498.3 1144.8,498.2 1147.5,498.5 1150.1,498.5 1152.8,498.9 1155.4,499 1158,498.7 1160.7,499.1 1163.3,498.9 1166,499.3 1168.7,499.3 1171.5,499.5 1174.2,500.1 1176.9,500.3 1179.7,500.5 1182.4,500.5 1185.1,500.8 1187.8,501.1 1190.6,501.1 1193.3,501.4 1195.9,501.3 1198.6,501 1201.2,500.8 1203.8,500.7 1206.5,500.9 1209.1,500.6 1211.8,500.7 1214.4,500.3 1217.1,500.4 1219.7,500.5"/>
<path fill="none" stroke="#000000" stroke-width="1.8" d="M535.1 638.7V657.5M535.1 667.5V687M531.1 638.7H539.1M531.1 687H539.1"/>
<path fill="none" stroke="#000000" stroke-width="1.8" stroke-linejoin="miter" d="M535.1 646.3L544.9 662.5L535.1 678.7L525.3 662.5Z"/>
<path fill="none" stroke="#000000" stroke-width="1.8" d="M678.9 517.5V521.7M678.9 531.7V535.9M674.9 517.5H682.9M674.9 535.9H682.9"/>
<path fill="none" stroke="#000000" stroke-width="1.8" stroke-linejoin="miter" d="M678.9 510.5L688.7 526.7L678.9 542.9L669.1 526.7Z"/>
<path fill="none" stroke="#000000" stroke-width="1.8" d="M859.5 489.5V489.7M859.5 499.7V499.9M855.5 489.5H863.5M855.5 499.9H863.5"/>
<path fill="none" stroke="#000000" stroke-width="1.8" stroke-linejoin="miter" d="M859.5 478.5L869.3 494.7L859.5 510.9L849.7 494.7Z"/>
<path fill="none" stroke="#000000" stroke-width="1.8" d="M1039.4 489.8V490.5M1039.4 500.5V501.2M1035.4 489.8H1043.4M1035.4 501.2H1043.4"/>
<path fill="none" stroke="#000000" stroke-width="1.8" stroke-linejoin="miter" d="M1039.4 479.3L1049.2 495.5L1039.4 511.7L1029.6 495.5Z"/>
<path fill="none" stroke="#000000" stroke-width="1.8" d="M1219.7 494.4V495.5M1219.7 505.5V506.6M1215.7 494.4H1223.7M1215.7 506.6H1223.7"/>
<path fill="none" stroke="#000000" stroke-width="1.8" stroke-linejoin="miter" d="M1219.7 484.3L1229.5 500.5L1219.7 516.7L1209.9 500.5Z"/>
<polyline fill="none" stroke="#ff0000" stroke-width="2.0" stroke-linejoin="round" stroke-linecap="round" points="513.5,634 513.9,637.3 514.2,639.9 514.6,641.1 514.9,643.7 515.3,647.5 515.7,650 516,652.4 516.4,654.5 516.8,657.5 517.1,660.1 517.5,662.7 517.8,664.6 518.2,667.8 520.9,666 523.6,664.4 524.7,661.3 525.9,658.9 527,655.6 528.5,654.3 530.1,652.1 531.6,649.3 533.2,647 534.7,644.6 536.3,642.1 537.8,640.8 538.5,637.6 539.3,635.9 540,633.2 540.8,630.9 541.5,629.3 542.3,626.3 543,623.9 543.8,621 544.5,619 545.9,616 547.2,614.2 548.6,611.7 550,610 551.6,608 553.3,606.7 555,604.2 556.6,601.9 558.4,599.6 560.2,598.9 562,596.9 563.9,595 565.7,593.5 567.5,591 569.5,589.4 571.4,587.5 573.3,584.8 575.3,583 577.2,581.8 579.1,579.9 581.1,576.7 583,575.3 585.4,574.7 587.8,573.7 590.1,572.3 592.5,571.4 595,570.5 597.5,569.5 600,569.3 602.5,567.6 605,566.7 607.4,565.9 609.7,563.7 612,563.2 614.4,561.2 616.5,560.3 618.5,558.1 620.6,556.6 623.7,555.6 626.9,555.1 630,553.4 633.1,553 636.3,551.8 639.4,551 641.7,549.4 644.1,548.4 646.4,547.9 648.8,546.4 651.9,545.1 655,544.8 658.1,545.9 661.2,545.6 663.6,546.4 665.9,548.6 668.3,548.8 670.6,550.3 673.7,551.8 676.9,552.2 680,552.7 682.5,553 685,553.3 687.5,553.8 690,554 692.5,554.2 695,553.7 697.5,553.4 700,553.7 702.5,553.8 705,553.4 707.5,554.2 710,554.7 712.5,555.9 715,556.5 717.9,556.5 720.8,556.4 723.7,555.8 726.6,555.8 729.1,555.6 731.6,554.8 734.1,554.7 736.6,554.1 739.1,553.7 741.5,553.7 744,552.9 746.5,552.8 749,552.6 751.5,551.8 754,551.6 756.5,551.9 759.1,552.7 761.6,552.8 764.2,553.4 766.7,553.4 769.2,554 771.8,554.4 774.3,555.1 776.9,555.1 779.4,555.8 782,556.5 784.7,556.4 787.3,557.3 790,557.3 792.6,557.9 795.2,558.7 797.9,558.8 800.5,559.4 803.3,559.1 806.1,559.2 808.9,558.8 811.7,558.5 814.5,558.8 817.3,558.4 819.9,559.1 822.6,560 825.2,561.1 827.8,562.1 830.5,563.1 833.1,563.7 835.8,564.7 838.4,565.7 841,565.7 843.7,566.2 846.3,566.6 849,566.9 851.6,567.2 854.2,567.4 856.9,567.7 859.5,567.8 862.2,568.4 864.9,568.8 867.6,569.2 870.4,569.9 873.1,570.3 875.8,570.7 878.5,571.4 881.3,571.5 884.1,571.8 887,571.5 889.8,571.8 892.6,571.8 895.4,572 898.1,572.4 900.8,572.6 903.5,573.5 906.3,573.5 909,574.1 911.7,574.4 914.4,574.8 917.1,574.1 919.8,574 922.5,573.4 925.2,573 927.9,572.5 930.6,572.2 933.3,572 936.2,571.4 939.2,571.3 942.1,570.8 945.1,570.7 948,570 950.8,570.6 953.7,570.9 956.5,570.9 959.3,571.3 962.2,571.5 965,572 967.7,571.8 970.4,571.6 973.1,571.4 975.8,571.1 978.5,570.6 981.2,570.5 983.9,570.3 986.6,570 989.2,569.4 991.9,569 994.5,568.9 997.2,568.3 999.8,568.3 1002.5,567.7 1005.1,567.3 1007.7,567 1010.4,566.6 1013,566.3 1015.7,566.1 1018.3,565.7 1020.9,565.5 1023.6,565.2 1026.2,565.3 1028.9,564.8 1031.5,565.1 1034.2,564.9 1036.8,564.6 1039.4,564.3 1042.1,564.1 1044.7,564 1047.4,563.5 1050,563.6 1052.6,563.6 1055.2,563.6 1057.8,563.4 1060.4,563.4 1063,563.8 1065.5,563.5 1068.1,563.6 1070.7,563.8 1073.3,563.7 1075.9,563.6 1078.6,563.3 1081.2,563.5 1083.9,562.9 1086.6,562.5 1089.2,562.7 1091.9,562.1 1094.6,562 1097.3,562.1 1099.9,561.8 1102.6,561.5 1105.2,561 1107.9,561.1 1110.5,560.9 1113.2,560.7 1115.8,560.4 1118.4,560.4 1121.1,559.9 1123.7,560 1126.3,559.9 1129,560.1 1131.6,560.4 1134.2,560 1136.9,560.5 1139.5,560.2 1142.2,560.5 1144.8,560.5 1147.5,560.4 1150.1,560.4 1152.8,560.5 1155.4,560.2 1158,560 1160.7,559.9 1163.3,559.8 1166,560 1168.8,560.4 1171.6,560.6 1174.4,561 1177.2,561.1 1180,561 1182.8,561.5 1185.4,561.2 1188.1,560.9 1190.7,560.5 1193.3,559.9 1196,559.5 1198.6,559.2 1201.3,559 1203.9,558.4 1206.5,558.3 1209.2,558.5 1211.8,558.6 1214.4,558.9 1217.1,558.9 1219.7,558.8"/>
<path fill="none" stroke="#ff0000" stroke-width="1.8" d="M571.4 562.8V583.1M571.4 593.1V613.4M567.4 562.8H575.4M567.4 613.4H575.4"/>
<rect fill="none" stroke="#ff0000" stroke-width="1.8" x="561.4" y="578.1" width="20" height="20"/>
<path fill="none" stroke="#ff0000" stroke-width="1.8" d="M715 544.6V553.4M715 563.4V572M711 544.6H719M711 572H719"/>
<rect fill="none" stroke="#ff0000" stroke-width="1.8" x="705" y="548.4" width="20" height="20"/>
<path fill="none" stroke="#ff0000" stroke-width="1.8" d="M895.4 560.2V567M895.4 577V583.8M891.4 560.2H899.4M891.4 583.8H899.4"/>
<rect fill="none" stroke="#ff0000" stroke-width="1.8" x="885.4" y="562" width="20" height="20"/>
<path fill="none" stroke="#ff0000" stroke-width="1.8" d="M1075.9 552.2V558.6M1075.9 568.6V575M1071.9 552.2H1079.9M1071.9 575H1079.9"/>
<rect fill="none" stroke="#ff0000" stroke-width="1.8" x="1065.9" y="553.6" width="20" height="20"/>
<polyline fill="none" stroke="#008000" stroke-width="2.0" stroke-linejoin="round" stroke-linecap="round" points="513.5,653 513.8,655.3 514.2,658.4 514.5,660.9 514.9,663.9 515.2,666.6 515.5,668.4 515.9,671 516.2,674.5 517,677.7 517.8,679.5 518.6,682.2 519.4,686.1 520.2,688 524.3,686.6 525.4,684.1 526.5,682.2 527.6,679.2 528.8,677 529.9,673.7 531,671.8 532.4,669.9 533.7,668.2 535.1,665.5 536.4,663.7 537.8,661.5 539.1,658.4 540.5,657 541.5,654.9 542.4,652.1 543.4,649.1 544.4,646.2 545.3,645 546.3,641.9 547.2,639.4 548.2,637.4 549.2,635.4 550.1,632.8 551.1,630.8 552.1,627.7 553,626 554,623.2 556.4,622.1 558.7,621.9 561.1,620.8 563.5,619.1 566,616.8 568.6,615.2 571.2,613.7 573.8,612.5 576.1,611.8 578.4,609.4 580.7,608.3 583,606.6 585.4,604.3 587.8,602.7 590.1,600.5 592.5,598.8 594.9,596.9 597.2,595.8 599.5,594.2 601.9,592.5 604.2,591.2 606.6,588.9 608.9,587.3 611.2,584.7 613.8,583.9 616.2,582.7 618.8,580.8 621.2,578.6 623.8,577.7 626.5,576.9 629.2,575.7 632,574.2 634.7,572.2 636.9,570.9 639.1,569.7 641.2,567.5 643.4,567.1 645.6,565.2 648.7,564.3 651.9,562.7 655,562 657.4,560 659.7,559.9 662,558.7 664.4,556.6 667.5,556.4 670.6,558 673.8,558 676.2,558.8 678.8,559.4 681.2,560.6 683.8,562.3 686.2,562.8 689.4,563.1 692.5,561.5 695.6,562 698.7,561.7 701.9,560.7 705,560.5 707.7,558.8 710.2,559.6 712.6,560 715,560.9 717.5,561.6 720,562 722.4,562.6 725,561.7 727.7,560.2 730.4,558.9 733,558 735.6,558.4 738.1,558.5 740.7,558.9 743.2,559.4 745.8,559.8 748.3,560 750.9,560.5 753.6,560.5 756.4,561.3 759.1,561.3 761.9,562 764.6,562 767.1,563 769.5,563.5 772,564.4 774.5,565.2 776.9,566.1 779.4,566.8 781.8,567.9 784.3,568.9 786.7,570 789.1,571.2 791.6,572 794,573 796.8,573.6 799.7,574.5 802.5,574.9 805.3,575.6 808.2,576.6 811,577 813.6,577.5 816.2,578 818.9,578.2 821.5,579 824.1,579.5 826.8,579.7 829.4,580.6 832,581 834.6,581.4 837.3,581.4 840,582.1 842.6,582.3 845.2,582.8 847.9,582.9 850.6,583.5 853.2,583.7 855.8,584.1 858.5,584.1 861.1,584.4 863.8,585 866.4,585.5 869,585.4 871.7,585.9 874.3,586.2 877.2,585.8 880.2,585.2 883.1,584.8 886.1,584.3 889,584 891.4,583.3 893.9,582.7 896.3,581.9 898.7,581.3 901.1,580.9 903.6,579.8 906,579.4 908.5,579.1 911,578.9 913.6,578.3 916.1,577.9 918.6,577.8 921.2,578.1 923.8,577.9 926.5,578 929.1,578.2 931.7,578.4 934.4,578.3 937.1,577.8 939.9,577.8 942.6,577.6 945.3,577.7 948,577.3 950.8,577.2 953.7,577.4 956.5,577 959.3,577 962.2,577.1 965,577 967.8,577.3 970.5,577.1 973.2,577.1 976,577.3 978.6,576.8 981.3,576.8 983.9,576.4 986.6,576.4 989.2,576.2 991.9,575.6 994.5,575.4 997.1,575.4 999.8,575.1 1002.4,574.9 1005.1,574.4 1007.7,574.2 1010.3,573.8 1013,573.7 1015.6,573.8 1018.3,573.3 1020.9,573.2 1023.6,573.1 1026.2,572.9 1028.8,572.7 1031.5,572.8 1034.1,572.2 1036.8,571.9 1039.4,572 1042,572.1 1044.7,571.9 1047.3,571.8 1049.9,571.3 1052.6,571.4 1055.2,571.2 1057.8,570.7 1060.5,570.8 1063.1,570.7 1065.7,570.4 1068.4,570.2 1071,570 1073.6,569.3 1076.2,568.8 1078.9,568.2 1081.5,567.6 1084.1,567.4 1086.8,566.7 1089.4,566.4 1092,565.7 1094.8,565.1 1097.6,565.3 1100.4,564.9 1103.1,564.7 1105.9,564.4 1108.7,564 1111.5,563.5 1114,563.4 1116.6,563 1119.1,563.3 1121.6,562.9 1124.2,562.9 1126.7,563 1129.2,562.8 1131.8,562.7 1134.3,562.6 1136.9,562.4 1139.6,561.9 1142.2,561.3 1144.8,560.9 1147.5,560.8 1150.1,560.2 1152.8,560 1155.4,559.4 1158,558.9 1160.7,558.4 1163.3,558.2 1166,558 1168.6,557.2 1171.2,557.2 1173.9,556.8 1176.5,556.2 1179.1,556.1 1181.8,555.8 1184.4,555.1 1187,555.2 1189.7,555 1192.3,554.3 1195,554.1 1197.6,554 1200.4,554.1 1203.1,554.5 1205.9,554.6 1208.7,554.9 1211.4,555.3 1214.2,555.1 1216.9,555.3 1219.7,555.8"/>
<path fill="none" stroke="#008000" stroke-width="1.8" d="M606.9 580V586.7M606.9 596.7V603.4M602.9 580H610.9M602.9 603.4H610.9"/>
<path fill="none" stroke="#008000" stroke-width="1.8" stroke-linejoin="miter" d="M606.9 580.5L619.9 603L593.9 603Z"/>
<path fill="none" stroke="#008000" stroke-width="1.8" d="M750.9 554.1V556.5M750.9 566.5V568.9M746.9 554.1H754.9M746.9 568.9H754.9"/>
<path fill="none" stroke="#008000" stroke-width="1.8" stroke-linejoin="miter" d="M750.9 550.2L763.9 572.8L737.9 572.8Z"/>
<path fill="none" stroke="#008000" stroke-width="1.8" d="M931.7 571.4V573.4M931.7 583.4V585.4M927.7 571.4H935.7M927.7 585.4H935.7"/>
<path fill="none" stroke="#008000" stroke-width="1.8" stroke-linejoin="miter" d="M931.7 567.1L944.7 589.6L918.7 589.6Z"/>
<path fill="none" stroke="#008000" stroke-width="1.8" d="M1111.5 556.9V557.6M1111.5 567.6V568.3M1107.5 556.9H1115.5M1107.5 568.3H1115.5"/>
<path fill="none" stroke="#008000" stroke-width="1.8" stroke-linejoin="miter" d="M1111.5 551.4L1124.5 573.9L1098.5 573.9Z"/>
<polyline fill="none" stroke="#0000ff" stroke-width="2.0" stroke-linejoin="round" stroke-linecap="round" points="513.5,600.2 514,602.4 514.4,604.7 514.9,607.8 515.3,610 515.8,612.4 516.2,615.8 518.2,613.2 520.2,611 520.9,609.1 521.6,606.2 522.3,603.4 522.9,599.7 523.6,597.6 524.3,594.9 525.2,591.8 526,589 526.9,586.2 527.8,583.8 528.6,582.4 529.5,579 530.8,582 532,584.4 533.2,586.8 534.5,588.7 535.6,585.8 536.8,583.6 537.9,581.9 539.1,579.7 540.2,577.6 541.4,575.2 542.5,572.2 547,574 549.5,572.4 551.9,572.2 553.9,570.7 556,569 558,567 560.1,565.6 562.3,563.6 564.4,562.8 567.5,562.4 570.6,562 573,559.5 575.3,559.3 577.6,557.4 580,555 582.1,553.5 584.2,551.5 586.2,551 588.3,548.9 590.4,547.9 592.5,545.6 595,545.4 597.5,544.1 600,543.1 602.5,542.7 605,541.7 607.5,541 610,539.9 612.5,539.5 615,539.8 617.5,538.6 619.9,536 622.2,534.3 624.5,533.6 626.9,531.6 629.5,530.4 632.1,530.1 634.7,529.2 637.4,528.6 640.1,527.8 642.8,527.5 645.8,528.6 648.9,527.4 652,528 655,528.4 657.1,529.4 659.2,531.7 661.2,533 663.6,533.8 665.9,535.1 668.3,537 670.6,537.8 673.1,538 675.6,538.9 678,540 680.5,539 683,540.2 685.5,539.9 688,540.6 690.6,542.1 693.1,542.2 695.6,542.5 698.7,542.5 701.9,543.4 705,544 705.5,542.5 708,541.5 710.4,540.9 712.9,539.8 715.4,539.4 717.8,538.7 720.3,537.7 722.8,537.6 725.4,537 727.9,536.7 730.5,535.7 733,535.6 735.8,535.9 738.6,536.8 741.4,537.1 744.2,537.3 747,538.1 749.8,538.3 752.6,538.1 755.4,538 758.2,537.4 761.1,537.1 763.9,537 766.7,536.8 769.2,537.5 771.7,538.7 774.2,540 776.7,540.6 779.2,541.4 781.7,542.4 784.2,543.4 786.8,544.6 789.3,545.2 791.9,545.4 794.4,545.8 797,546.2 799.6,547.2 802.1,547.3 804.7,547.8 807.5,548.3 810.3,548.9 813.2,549.6 816,550.4 818.8,551.4 821.6,552 824.2,552.7 826.9,553.6 829.5,554.8 832.2,555.5 834.8,556.9 837.4,557.3 840.1,558.5 842.7,559.4 845.5,559.4 848.3,559 851.1,559.2 853.9,558.7 856.7,558.4 859.5,558.4 862.2,559.2 864.9,559.8 867.6,560.9 870.4,561.6 873.1,562.9 875.8,563.7 878.5,564.3 881.3,564.9 884.1,565.2 887,565.9 889.8,566.5 892.6,567 895.4,567.8 898.1,567.9 900.8,568.7 903.5,568.5 906.3,568.8 909,569.6 911.7,569.7 914.4,570 917.2,569.9 920,569.2 922.8,569.2 925.6,568.6 928.4,568.3 931.2,567.8 934,568.3 936.8,568.5 939.6,568.6 942.4,569.1 945.2,569.9 948,570 950.8,570.3 953.6,570.4 956.4,570.2 959.3,570.4 962.1,570.6 964.9,570.6 967.7,570.6 970.4,570.7 973.1,570.5 975.7,570.5 978.4,570.5 981.1,570.2 983.8,570.5 986.5,570.5 989.2,569.9 991.8,570.4 994.5,570.3 997.2,570 999.8,569.8 1002.5,569.2 1005.1,569.4 1007.8,568.7 1010.4,568.9 1013,568.5 1015.7,567.8 1018.3,567.8 1020.9,567.9 1023.6,568.4 1026.2,568.7 1028.8,569.1 1031.5,569.4 1034.1,569.3 1036.8,569.4 1039.4,570 1042,570.2 1044.7,569.5 1047.3,570 1049.9,569.4 1052.6,569.7 1055.2,569.6 1057.8,569.6 1060.5,569.3 1063.1,569.4 1065.7,568.9 1068.4,569.1 1071,568.9 1073.6,568.5 1076.3,568.6 1078.9,568.3 1081.5,567.8 1084.2,567.6 1086.8,567 1089.4,566.7 1092.1,566.8 1094.7,566.5 1097.3,566.5 1100,566 1102.6,565.7 1105.2,565.2 1107.9,565.1 1110.5,565.1 1113.2,564.7 1115.8,564.1 1118.4,564.3 1121.1,564.1 1123.7,563.6 1126.3,562.8 1129,562.6 1131.6,561.9 1134.2,561.6 1136.9,560.8 1139.5,560.2 1142.1,559.9 1144.8,559.6 1147.4,558.8 1150.1,558.9 1152.7,559.3 1155.4,560 1158,560.6 1160.7,560.7 1163.3,561.1 1166,561.5 1168.5,562.3 1171,562.8 1173.6,562.9 1176.1,564 1178.6,564.3 1181,563.5 1183.5,562.9 1185.9,562.6 1188.4,561.7 1190.8,561.3 1193.3,560.5 1195.9,560.1 1198.6,560.3 1201.2,559.7 1203.9,559.4 1206.5,559.4 1209.1,559.1 1211.8,559.1 1214.4,559.1 1217.1,558.7 1219.7,558.4"/>
<path fill="none" stroke="#0000ff" stroke-width="1.8" d="M642.8 506V522.5M642.8 532.5V549M638.8 506H646.8M638.8 549H646.8"/>
<circle fill="none" stroke="#0000ff" stroke-width="1.8" cx="642.8" cy="527.5" r="11.3"/>
<path fill="none" stroke="#0000ff" stroke-width="1.8" d="M786.8 530V539.6M786.8 549.6V559.2M782.8 530H790.8M782.8 559.2H790.8"/>
<circle fill="none" stroke="#0000ff" stroke-width="1.8" cx="786.8" cy="544.6" r="11.3"/>
<path fill="none" stroke="#0000ff" stroke-width="1.8" d="M967.7 561.8V565.6M967.7 575.6V579.4M963.7 561.8H971.7M963.7 579.4H971.7"/>
<circle fill="none" stroke="#0000ff" stroke-width="1.8" cx="967.7" cy="570.6" r="11.3"/>
<path fill="none" stroke="#0000ff" stroke-width="1.8" d="M1147.4 548.8V553.8M1147.4 563.8V568.8M1143.4 548.8H1151.4M1143.4 568.8H1151.4"/>
<circle fill="none" stroke="#0000ff" stroke-width="1.8" cx="1147.4" cy="558.8" r="11.3"/>
<polyline fill="none" stroke="#ff00ff" stroke-width="1.84" stroke-linejoin="round" stroke-linecap="round" points="541.7,462 543,465.1 544.3,468.2 545.6,470.6 546.6,473.5 547.7,476.1 548.8,478.1 549.8,480.8 550.9,481.5 551.9,484.7 553.4,486.8 555,489.8 556.5,491.4 558,493.3 560.4,495 562.8,494.6 565.1,496.2 567.5,497.2 570.1,498.8 572.7,501.4 575.3,503.4 577.2,505.6 579.1,506.6 580.9,509 582.8,511.2 584.7,513.6 587.3,514.1 589.9,513.5 592.5,512.8 594.6,514 596.7,517 598.8,518.3 601.9,518 605,519 608.1,521.2 611.2,523 614.4,520.3 617.5,519 620.2,517.7 623,518.9 625.7,517.4 628.4,517.5 631,518 633.6,520.4 636.2,520.6 639.5,522.3 642.8,522.6 645.2,523.1 647.7,525.2 650.1,525.3 652.6,526.4 655,527 657.6,528.2 660.2,531.3 662.8,532.3 665.4,531.9 668,531.6 670.6,530 673.4,530.4 676.2,529 679.1,528.8 681.9,528.1 684.7,528.4 687.2,527.6 689.8,527.2 692.3,527.5 694.9,527.8 697.4,526.6 699.9,527.6 702.5,527 705,526.9 707.6,526 710.3,525.5 712.9,524.5 715.6,523.7 718.2,523 720.7,523.6 723.1,524.4 725.6,524.6 728.1,525.8 730.5,525.8 733,526.7 735.6,526 738.2,525.2 740.9,523.9 743.5,523.5 746.1,522.4 748.8,521.7 751.4,520.5 754,520 756.7,519.8 759.4,520 762.1,520.6 764.9,520.3 767.6,520.7 770.3,521 773,520.8 775.8,520.8 778.7,520.1 781.5,519.8 784.4,519.6 787.2,519.3 789.7,519.8 792.2,519.7 794.7,520.4 797.2,520.7 799.7,521 802.2,520.8 804.7,521.4 807.3,521.7 810,521.1 812.6,521.3 815.2,521.5 817.9,521.7 820.5,521.3 823.2,521.7 825.8,521.4 828.5,521.8 831.2,522.1 833.9,522.5 836.6,522.8 839.3,523.1 842,523.6 844.8,524.2 847.5,523.8 850.2,523.5 852.9,522.5 855.6,522 858.3,522.1 861,521.3 863.7,520.8 866.3,520.9 869,520.9 871.6,521.3 874.2,521.6 876.9,521.5 879.5,521.7 882.2,521.6 884.8,522 887.4,522.4 890.1,522.1 892.8,522.6 895.4,523 898,522.7 900.7,523.3 903.4,523.6 906,523.5 908.6,523.4 911.2,523.3 913.9,522.7 916.5,522.7 919.1,522.3 921.8,522.6 924.4,522.1 927,522 929.6,522.1 932.2,522.6 934.9,522.6 937.5,522.8 940.1,522.6 942.8,522.7 945.4,523 948,523 950.8,523.5 953.6,523.8 956.4,524.4 959.3,524.7 962.1,525.3 964.9,526.1 967.7,526.3 970.4,526.6 973.1,526.4 975.8,526.3 978.5,526.2 981.2,526 983.9,526.2 986.6,526.3 989.1,526.4 991.7,526.4 994.2,526 996.8,526.2 999.3,526.2 1001.8,526.1 1004.4,526 1006.9,526 1009.5,525.7 1012,525.7 1014.6,526.2 1017.2,526.3 1019.8,526.8 1022.4,527.3 1025,527.7 1027.6,527.8 1030.1,528.6 1032.7,528.7 1035.3,529.1 1037.9,529.1 1040.5,529.8 1043.1,530 1045.7,530.5 1048.2,530.3 1050.8,529.9 1053.3,529.9 1055.8,529.5 1058.3,529.3 1060.9,528.8 1063.4,528.7 1065.9,528.5 1068.5,528.3 1071,527.8 1073.6,527.9 1076.3,528.4 1078.9,528.6 1081.5,528.6 1084.2,529 1086.8,529.1 1089.4,529 1092.1,529.2 1094.7,529.2 1097.3,529.8 1100,530 1102.6,529.9 1105.1,529.7 1107.7,529.7 1110.2,529.6 1112.8,529.4 1115.3,528.9 1117.8,529.2 1120.4,528.9 1122.9,528.8 1125.5,528.5 1128,528.4 1130.8,528.6 1133.5,528.9 1136.3,529 1139.1,529.2 1141.9,528.9 1144.6,529.1 1147.4,529.5 1150.1,529.4 1152.7,529.5 1155.4,529.2 1158,529.4 1160.7,529.4 1163.3,529 1166,529.2 1168.6,529.3 1171.2,529.4 1173.9,529.4 1176.5,529.6 1179.1,529.9 1181.8,530 1184.4,530.1 1187,530.5 1189.5,530.2 1192,530.4 1194.5,530.3 1197.1,530.4 1199.6,530.3 1202.1,530.1 1204.6,530.4 1207.1,529.8 1209.6,530 1212.2,529.9 1214.7,529.9 1217.2,529.7 1219.7,529.9"/>
<path fill="none" stroke="#ff00ff" stroke-width="1.66" d="M642.8 511.6V517.6M642.8 527.6V533.6M638.8 511.6H646.8M638.8 533.6H646.8"/>
<path fill="none" stroke="#ff00ff" stroke-width="1.7" stroke-linejoin="miter" d="M642.8 510.5L645.5 518.9L654.3 518.9L647.2 524L649.9 532.4L642.8 527.2L635.7 532.4L638.4 524L631.3 518.9L640.1 518.9Z"/>
<path fill="none" stroke="#ff00ff" stroke-width="1.66" d="M787.2 513.5V516M787.2 526V528.5M783.2 513.5H791.2M783.2 528.5H791.2"/>
<path fill="none" stroke="#ff00ff" stroke-width="1.7" stroke-linejoin="miter" d="M787.2 508.9L789.9 517.3L798.7 517.3L791.6 522.4L794.3 530.8L787.2 525.6L780.1 530.8L782.8 522.4L775.7 517.3L784.5 517.3Z"/>
<path fill="none" stroke="#ff00ff" stroke-width="1.66" d="M967.7 517.5V521.3M967.7 531.3V535.1M963.7 517.5H971.7M963.7 535.1H971.7"/>
<path fill="none" stroke="#ff00ff" stroke-width="1.7" stroke-linejoin="miter" d="M967.7 514.2L970.4 522.6L979.2 522.6L972.1 527.7L974.8 536.1L967.7 530.9L960.6 536.1L963.3 527.7L956.2 522.6L965 522.6Z"/>
<path fill="none" stroke="#ff00ff" stroke-width="1.66" d="M1147.4 522.5V524.5M1147.4 534.5V536.5M1143.4 522.5H1151.4M1143.4 536.5H1151.4"/>
<path fill="none" stroke="#ff00ff" stroke-width="1.7" stroke-linejoin="miter" d="M1147.4 517.4L1150.1 525.8L1158.9 525.8L1151.8 530.9L1154.5 539.3L1147.4 534.1L1140.3 539.3L1143 530.9L1135.9 525.8L1144.7 525.8Z"/>
</g>
<path fill="none" stroke="#000" stroke-width="2.2" d="M534.9 461.4V468.7M534.9 840V832.7M570.9 461.4V468.7M570.9 840V832.7M607 461.4V468.7M607 840V832.7M643 461.4V474.4M643 840V827M679 461.4V468.7M679 840V832.7M715.1 461.4V468.7M715.1 840V832.7M751.1 461.4V468.7M751.1 840V832.7M787.2 461.4V474.4M787.2 840V827M823.2 461.4V468.7M823.2 840V832.7M859.3 461.4V468.7M859.3 840V832.7M895.4 461.4V468.7M895.4 840V832.7M931.4 461.4V474.4M931.4 840V827M967.5 461.4V468.7M967.5 840V832.7M1003.5 461.4V468.7M1003.5 840V832.7M1039.5 461.4V468.7M1039.5 840V832.7M1075.6 461.4V474.4M1075.6 840V827M1111.7 461.4V468.7M1111.7 840V832.7M1147.7 461.4V468.7M1147.7 840V832.7M1183.8 461.4V468.7M1183.8 840V832.7M513.5 814.6H520.8M1219.7 814.6H1212.4M513.5 789.4H520.8M1219.7 789.4H1212.4M513.5 764.2H520.8M1219.7 764.2H1212.4M513.5 739H520.8M1219.7 739H1212.4M513.5 713.8H526.5M1219.7 713.8H1206.7M513.5 688.6H520.8M1219.7 688.6H1212.4M513.5 663.4H520.8M1219.7 663.4H1212.4M513.5 638.2H520.8M1219.7 638.2H1212.4M513.5 613H520.8M1219.7 613H1212.4M513.5 587.8H526.5M1219.7 587.8H1206.7M513.5 562.6H520.8M1219.7 562.6H1212.4M513.5 537.4H520.8M1219.7 537.4H1212.4M513.5 512.2H520.8M1219.7 512.2H1212.4M513.5 487H520.8M1219.7 487H1212.4"/>
<path fill="none" stroke="#000" stroke-width="3.4" stroke-linecap="square" d="M513.5 461.4H1219.7V840H513.5"/>
<path fill="none" stroke="#000" stroke-width="2.9" stroke-linecap="square" d="M513.5 461.4V840"/>
<path stroke="#000000" stroke-width="2.5" d="M859.6 616.4H964.6"/>
<path stroke="#ff0000" stroke-width="2.5" d="M859.6 662.1H964.6"/>
<path stroke="#008000" stroke-width="2.5" d="M859.6 707.8H964.6"/>
<path stroke="#0000ff" stroke-width="2.5" d="M859.6 753.7H964.6"/>
<path stroke="#ff00ff" stroke-width="2.5" d="M859.6 799.3H964.6"/>
<path fill="none" stroke="#000000" stroke-width="2.3" stroke-linejoin="miter" d="M911.8 599.1L923.6 618.5L911.8 637.9L899.9 618.5Z"/>
<rect fill="none" stroke="#ff0000" stroke-width="2.4" x="900.2" y="648.4" width="27" height="27"/>
<path fill="none" stroke="#008000" stroke-width="2.4" stroke-linejoin="miter" d="M914.6 695.4L928.1 718.7L901.1 718.7Z"/>
<circle fill="none" stroke="#0000ff" stroke-width="2.4" cx="914.4" cy="754.8" r="15"/>
<path fill="none" stroke="#ff00ff" stroke-width="2.0" stroke-linejoin="miter" d="M918.8 778.9L922.4 790.8L934.1 790.8L924.6 798.1L928.3 810L918.8 802.7L909.2 810L912.9 798.1L903.4 790.8L915.1 790.8Z"/>
<text x="130.7" y="963.7" font-size="39.5" font-family="'Liberation Sans', Arial, Helvetica, sans-serif" fill="#000" text-anchor="middle" textLength="21.5" lengthAdjust="spacingAndGlyphs" >0</text>
<text x="293.5" y="963.7" font-size="39.5" font-family="'Liberation Sans', Arial, Helvetica, sans-serif" fill="#000" text-anchor="middle" textLength="66" lengthAdjust="spacingAndGlyphs" >100</text>
<text x="455" y="963.7" font-size="39.5" font-family="'Liberation Sans', Arial, Helvetica, sans-serif" fill="#000" text-anchor="middle" textLength="66" lengthAdjust="spacingAndGlyphs" >200</text>
<text x="616.5" y="963.7" font-size="39.5" font-family="'Liberation Sans', Arial, Helvetica, sans-serif" fill="#000" text-anchor="middle" textLength="66" lengthAdjust="spacingAndGlyphs" >300</text>
<text x="779.6" y="963.7" font-size="39.5" font-family="'Liberation Sans', Arial, Helvetica, sans-serif" fill="#000" text-anchor="middle" textLength="66" lengthAdjust="spacingAndGlyphs" >400</text>
<text x="940.1" y="963.7" font-size="39.5" font-family="'Liberation Sans', Arial, Helvetica, sans-serif" fill="#000" text-anchor="middle" textLength="66" lengthAdjust="spacingAndGlyphs" >500</text>
<text x="1103" y="963.7" font-size="39.5" font-family="'Liberation Sans', Arial, Helvetica, sans-serif" fill="#000" text-anchor="middle" textLength="66" lengthAdjust="spacingAndGlyphs" >600</text>
<text x="1242.3" y="963.7" font-size="39.5" font-family="'Liberation Sans', Arial, Helvetica, sans-serif" fill="#000" text-anchor="middle" textLength="66" lengthAdjust="spacingAndGlyphs" >700</text>
<text x="111" y="167.1" font-size="39.5" font-family="'Liberation Sans', Arial, Helvetica, sans-serif" fill="#000" text-anchor="end" textLength="43.5" lengthAdjust="spacingAndGlyphs" >15</text>
<text x="111" y="548" font-size="39.5" font-family="'Liberation Sans', Arial, Helvetica, sans-serif" fill="#000" text-anchor="end" textLength="43.5" lengthAdjust="spacingAndGlyphs" >10</text>
<text x="111" y="928.3" font-size="39.5" font-family="'Liberation Sans', Arial, Helvetica, sans-serif" fill="#000" text-anchor="end" textLength="21.5" lengthAdjust="spacingAndGlyphs" >5</text>
<text x="482" y="1025" font-size="50.5" font-family="'Liberation Sans', Arial, Helvetica, sans-serif" fill="#000" text-anchor="start" textLength="430" lengthAdjust="spacingAndGlyphs" >Contact Depth (nm)</text>
<g transform="translate(41.8,636.5) rotate(-90)"><text x="0" y="0" font-size="50.5" font-family="'Liberation Sans', Arial, Helvetica, sans-serif" fill="#000" text-anchor="start" textLength="353" lengthAdjust="spacingAndGlyphs" >Hardness (GPa)</text></g>
<text x="745.5" y="231.2" font-size="33.8" font-family="'Liberation Sans', Arial, Helvetica, sans-serif" fill="#000" textLength="446.5" lengthAdjust="spacingAndGlyphs">2000 ALD cycles WO<tspan font-size="22" dy="10">3</tspan><tspan dy="-10"> on Si</tspan></text>
<text x="983" y="628.3" font-size="33.8" font-family="'Liberation Sans', Arial, Helvetica, sans-serif" fill="#000000" text-anchor="start" textLength="208" lengthAdjust="spacingAndGlyphs" >As deposited</text>
<text x="983" y="673.6" font-size="33.8" font-family="'Liberation Sans', Arial, Helvetica, sans-serif" fill="#ff0000" text-anchor="start" textLength="60.5" lengthAdjust="spacingAndGlyphs" >500</text>
<text x="1052.6" y="655" font-size="20" font-family="'Liberation Sans', Arial, Helvetica, sans-serif" fill="#ff0000" text-anchor="start" textLength="12" lengthAdjust="spacingAndGlyphs" >o</text>
<text x="1064.3" y="673.6" font-size="33.8" font-family="'Liberation Sans', Arial, Helvetica, sans-serif" fill="#ff0000" text-anchor="start" textLength="27.6" lengthAdjust="spacingAndGlyphs" >C</text>
<text x="983" y="719.2" font-size="33.8" font-family="'Liberation Sans', Arial, Helvetica, sans-serif" fill="#008000" text-anchor="start" textLength="60.5" lengthAdjust="spacingAndGlyphs" >600</text>
<text x="1052.6" y="700.6" font-size="20" font-family="'Liberation Sans', Arial, Helvetica, sans-serif" fill="#008000" text-anchor="start" textLength="12" lengthAdjust="spacingAndGlyphs" >o</text>
<text x="1064.3" y="719.2" font-size="33.8" font-family="'Liberation Sans', Arial, Helvetica, sans-serif" fill="#008000" text-anchor="start" textLength="27.6" lengthAdjust="spacingAndGlyphs" >C</text>
<text x="983" y="764.8" font-size="33.8" font-family="'Liberation Sans', Arial, Helvetica, sans-serif" fill="#0000ff" text-anchor="start" textLength="60.5" lengthAdjust="spacingAndGlyphs" >700</text>
<text x="1052.6" y="746.2" font-size="20" font-family="'Liberation Sans', Arial, Helvetica, sans-serif" fill="#0000ff" text-anchor="start" textLength="12" lengthAdjust="spacingAndGlyphs" >o</text>
<text x="1064.3" y="764.8" font-size="33.8" font-family="'Liberation Sans', Arial, Helvetica, sans-serif" fill="#0000ff" text-anchor="start" textLength="27.6" lengthAdjust="spacingAndGlyphs" >C</text>
<text x="983" y="810.6" font-size="33.8" font-family="'Liberation Sans', Arial, Helvetica, sans-serif" fill="#ff00ff" text-anchor="start" textLength="116" lengthAdjust="spacingAndGlyphs" >Si(100)</text>
<text x="496.2" y="471" font-size="33" font-family="'Liberation Sans', Arial, Helvetica, sans-serif" fill="#000" text-anchor="end" textLength="38.5" lengthAdjust="spacingAndGlyphs" >15</text>
<text x="496.2" y="598" font-size="33" font-family="'Liberation Sans', Arial, Helvetica, sans-serif" fill="#000" text-anchor="end" textLength="38.5" lengthAdjust="spacingAndGlyphs" >10</text>
<text x="496.2" y="722" font-size="33" font-family="'Liberation Sans', Arial, Helvetica, sans-serif" fill="#000" text-anchor="end" textLength="18.5" lengthAdjust="spacingAndGlyphs" >5</text>
<text x="496.2" y="850" font-size="33" font-family="'Liberation Sans', Arial, Helvetica, sans-serif" fill="#000" text-anchor="end" textLength="18.5" lengthAdjust="spacingAndGlyphs" >0</text>
<text x="641.7" y="878.7" font-size="33" font-family="'Liberation Sans', Arial, Helvetica, sans-serif" fill="#000" text-anchor="middle" textLength="39.5" lengthAdjust="spacingAndGlyphs" >20</text>
<text x="787.3" y="878.7" font-size="33" font-family="'Liberation Sans', Arial, Helvetica, sans-serif" fill="#000" text-anchor="middle" textLength="39.5" lengthAdjust="spacingAndGlyphs" >40</text>
<text x="931.5" y="878.7" font-size="33" font-family="'Liberation Sans', Arial, Helvetica, sans-serif" fill="#000" text-anchor="middle" textLength="39.5" lengthAdjust="spacingAndGlyphs" >60</text>
<text x="1077" y="878.7" font-size="33" font-family="'Liberation Sans', Arial, Helvetica, sans-serif" fill="#000" text-anchor="middle" textLength="39.5" lengthAdjust="spacingAndGlyphs" >80</text>
<text x="1201.8" y="878.7" font-size="33" font-family="'Liberation Sans', Arial, Helvetica, sans-serif" fill="#000" text-anchor="middle" textLength="60" lengthAdjust="spacingAndGlyphs" >100</text>
</svg>
</body></html>
